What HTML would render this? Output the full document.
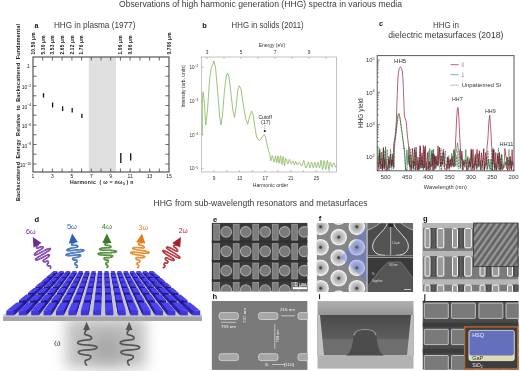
<!DOCTYPE html>
<html><head><meta charset="utf-8"><title>HHG figure</title>
<style>html,body{margin:0;padding:0;background:#fff;width:520px;height:371px;overflow:hidden}svg{display:block}</style>
</head><body>
<svg width="520" height="371" viewBox="0 0 520 371" font-family="'Liberation Sans',sans-serif">
<rect width="520" height="371" fill="#fff"/>
<text x="119" y="7" font-size="9" fill="#3a3a3a" text-anchor="start" textLength="283" lengthAdjust="spacingAndGlyphs" font-family="'Liberation Sans',sans-serif">Observations of high harmonic generation (HHG) spectra in various media</text>
<text x="153.5" y="206" font-size="9" fill="#3a3a3a" text-anchor="start" textLength="214" lengthAdjust="spacingAndGlyphs" font-family="'Liberation Sans',sans-serif">HHG from sub-wavelength resonators and metasurfaces</text>
<text x="36.5" y="27.6" font-size="7" fill="#111" text-anchor="middle" font-weight="bold" font-family="'Liberation Sans',sans-serif">a</text>
<text x="53.9" y="28" font-size="9" fill="#3a3a3a" text-anchor="start" textLength="81.5" lengthAdjust="spacingAndGlyphs" font-family="'Liberation Sans',sans-serif">HHG in plasma (1977)</text>
<rect x="88.8" y="57" width="27.2" height="115" fill="#e0e0e0"/>
<rect x="33" y="57" width="136" height="115" fill="none" stroke="#555" stroke-width="1.2"/>
<path d="M42.7 57V60.5M42.7 172V168.5M52.4 57V60.5M52.4 172V168.5M62.1 57V60.5M62.1 172V168.5M71.9 57V60.5M71.9 172V168.5M81.6 57V60.5M81.6 172V168.5M91.3 57V60.5M91.3 172V168.5M101.0 57V60.5M101.0 172V168.5M110.7 57V60.5M110.7 172V168.5M120.4 57V60.5M120.4 172V168.5M130.1 57V60.5M130.1 172V168.5M139.9 57V60.5M139.9 172V168.5M149.6 57V60.5M149.6 172V168.5M159.3 57V60.5M159.3 172V168.5M33 66.5H36.5M169 66.5H165.5M33 76.2H36.5M169 76.2H165.5M33 86.0H36.5M169 86.0H165.5M33 95.8H36.5M169 95.8H165.5M33 105.5H36.5M169 105.5H165.5M33 115.2H36.5M169 115.2H165.5M33 125.0H36.5M169 125.0H165.5M33 134.8H36.5M169 134.8H165.5M33 144.5H36.5M169 144.5H165.5M33 154.2H36.5M169 154.2H165.5M33 164.0H36.5M169 164.0H165.5" stroke="#555" stroke-width="0.9" fill="none"/>
<text x="29.8" y="68.3" font-size="5" fill="#222" text-anchor="end" font-family="'Liberation Sans',sans-serif">1</text>
<text x="31.3" y="89.4" font-size="5" fill="#222" text-anchor="end">10<tspan dy="-2.8" font-size="3.6">−2</tspan></text>
<text x="31.3" y="108.9" font-size="5" fill="#222" text-anchor="end">10<tspan dy="-2.8" font-size="3.6">−4</tspan></text>
<text x="31.3" y="128.4" font-size="5" fill="#222" text-anchor="end">10<tspan dy="-2.8" font-size="3.6">−6</tspan></text>
<text x="31.3" y="147.9" font-size="5" fill="#222" text-anchor="end">10<tspan dy="-2.8" font-size="3.6">−8</tspan></text>
<text x="31.3" y="167.4" font-size="5" fill="#222" text-anchor="end">10<tspan dy="-2.8" font-size="3.6">−10</tspan></text>
<text x="33.0" y="177.8" font-size="5" fill="#222" text-anchor="middle" font-family="'Liberation Sans',sans-serif">1</text>
<text x="52.4" y="177.8" font-size="5" fill="#222" text-anchor="middle" font-family="'Liberation Sans',sans-serif">3</text>
<text x="71.9" y="177.8" font-size="5" fill="#222" text-anchor="middle" font-family="'Liberation Sans',sans-serif">5</text>
<text x="91.3" y="177.8" font-size="5" fill="#222" text-anchor="middle" font-family="'Liberation Sans',sans-serif">7</text>
<text x="110.7" y="177.8" font-size="5" fill="#222" text-anchor="middle" font-family="'Liberation Sans',sans-serif">9</text>
<text x="130.1" y="177.8" font-size="5" fill="#222" text-anchor="middle" font-family="'Liberation Sans',sans-serif">11</text>
<text x="149.6" y="177.8" font-size="5" fill="#222" text-anchor="middle" font-family="'Liberation Sans',sans-serif">13</text>
<text x="169.0" y="177.8" font-size="5" fill="#222" text-anchor="middle" font-family="'Liberation Sans',sans-serif">15</text>
<text x="70" y="184" font-size="5.2" fill="#222" text-anchor="start" font-weight="bold" textLength="63.5" lengthAdjust="spacing" font-family="'Liberation Sans',sans-serif">Harmonic&#160;&#160;(&#160;ω&#160;=&#160;nω<tspan font-size="3.5" dy="1">0</tspan><tspan dy="-1">&#160;)&#160;n</tspan></text>
<text x="0" y="0" font-size="5.4" fill="#222" text-anchor="middle" font-weight="bold" textLength="177" lengthAdjust="spacing" transform="translate(19.9,112.5) rotate(-90)">Backscattered&#160;&#160;Energy&#160;&#160;Relative&#160;&#160;to&#160;&#160;Backscattered&#160;&#160;Fundamental</text>
<text x="0" y="0" font-size="4.8" fill="#222" font-weight="bold" textLength="22" lengthAdjust="spacing" transform="translate(34.8,54.6) rotate(-90)">10.59 μm</text>
<text x="0" y="0" font-size="4.8" fill="#222" font-weight="bold" textLength="19" lengthAdjust="spacing" transform="translate(44.5,54.6) rotate(-90)">5.30 μm</text>
<text x="0" y="0" font-size="4.8" fill="#222" font-weight="bold" textLength="19" lengthAdjust="spacing" transform="translate(54.2,54.6) rotate(-90)">3.53 μm</text>
<text x="0" y="0" font-size="4.8" fill="#222" font-weight="bold" textLength="19" lengthAdjust="spacing" transform="translate(63.9,54.6) rotate(-90)">2.65 μm</text>
<text x="0" y="0" font-size="4.8" fill="#222" font-weight="bold" textLength="19" lengthAdjust="spacing" transform="translate(73.7,54.6) rotate(-90)">2.12 μm</text>
<text x="0" y="0" font-size="4.8" fill="#222" font-weight="bold" textLength="19" lengthAdjust="spacing" transform="translate(83.4,54.6) rotate(-90)">1.76 μm</text>
<text x="0" y="0" font-size="4.8" fill="#222" font-weight="bold" textLength="19" lengthAdjust="spacing" transform="translate(122.2,54.6) rotate(-90)">1.06 μm</text>
<text x="0" y="0" font-size="4.8" fill="#222" font-weight="bold" textLength="19" lengthAdjust="spacing" transform="translate(131.9,54.6) rotate(-90)">0.96 μm</text>
<text x="0" y="0" font-size="4.8" fill="#222" font-weight="bold" textLength="22" lengthAdjust="spacing" transform="translate(170.8,54.6) rotate(-90)">0.706 μm</text>
<path d="M43.5 93.2V97.5M52.6 102.6V107.6M62.6 106.3V111M72.2 108V112.6M81.9 113.7V118.1M120.8 152.9V162.9M130.7 153.2V160.5" stroke="#111" stroke-width="1.3"/>
<text x="204.6" y="27.7" font-size="7.4" fill="#111" text-anchor="middle" font-weight="bold" font-family="'Liberation Sans',sans-serif">b</text>
<text x="231.6" y="28" font-size="9" fill="#3a3a3a" text-anchor="start" textLength="72" lengthAdjust="spacingAndGlyphs" font-family="'Liberation Sans',sans-serif">HHG in solids (2011)</text>
<rect x="201.5" y="57" width="135" height="115" fill="none" stroke="#b5b5b5" stroke-width="0.8"/>
<path d="M207.0 57V59M224.0 57V59M241.0 57V59M258.0 57V59M275.0 57V59M292.0 57V59M309.0 57V59M326.0 57V59M214.0 172V170M226.8 172V170M239.6 172V170M252.4 172V170M265.2 172V170M278.0 172V170M290.8 172V170M303.6 172V170M316.4 172V170M329.2 172V170M201.5 67.3H203.5M201.5 101.1H203.5M201.5 134.9H203.5M201.5 168.7H203.5" stroke="#999" stroke-width="0.6" fill="none"/>
<text x="207" y="53.6" font-size="4.8" fill="#333" text-anchor="middle" font-family="'Liberation Sans',sans-serif">3</text>
<text x="241" y="53.6" font-size="4.8" fill="#333" text-anchor="middle" font-family="'Liberation Sans',sans-serif">5</text>
<text x="275" y="53.6" font-size="4.8" fill="#333" text-anchor="middle" font-family="'Liberation Sans',sans-serif">7</text>
<text x="309" y="53.6" font-size="4.8" fill="#333" text-anchor="middle" font-family="'Liberation Sans',sans-serif">9</text>
<text x="214.0" y="179.6" font-size="4.8" fill="#333" text-anchor="middle" font-family="'Liberation Sans',sans-serif">9</text>
<text x="239.6" y="179.6" font-size="4.8" fill="#333" text-anchor="middle" font-family="'Liberation Sans',sans-serif">13</text>
<text x="265.2" y="179.6" font-size="4.8" fill="#333" text-anchor="middle" font-family="'Liberation Sans',sans-serif">17</text>
<text x="290.8" y="179.6" font-size="4.8" fill="#333" text-anchor="middle" font-family="'Liberation Sans',sans-serif">21</text>
<text x="316.4" y="179.6" font-size="4.8" fill="#333" text-anchor="middle" font-family="'Liberation Sans',sans-serif">25</text>
<text x="198.3" y="69.0" font-size="4.6" fill="#333" text-anchor="end">10<tspan dy="-1.8" font-size="3.2">−2</tspan></text>
<text x="198.3" y="102.8" font-size="4.6" fill="#333" text-anchor="end">10<tspan dy="-1.8" font-size="3.2">−3</tspan></text>
<text x="198.3" y="136.6" font-size="4.6" fill="#333" text-anchor="end">10<tspan dy="-1.8" font-size="3.2">−4</tspan></text>
<text x="198.3" y="170.4" font-size="4.6" fill="#333" text-anchor="end">10<tspan dy="-1.8" font-size="3.2">−5</tspan></text>
<text x="0" y="0" font-size="4.6" fill="#333" text-anchor="middle" textLength="42.8" lengthAdjust="spacingAndGlyphs" transform="translate(184.6,86.2) rotate(-90)">Intensity (arb. units)</text>
<text x="258.7" y="46.6" font-size="5.4" fill="#333" text-anchor="start" textLength="26.5" lengthAdjust="spacingAndGlyphs" font-family="'Liberation Sans',sans-serif">Energy (eV)</text>
<text x="252.8" y="187" font-size="5.4" fill="#333" text-anchor="start" textLength="35.3" lengthAdjust="spacingAndGlyphs" font-family="'Liberation Sans',sans-serif">Harmonic order</text>
<text x="258.5" y="119" font-size="5.4" fill="#222" text-anchor="start" textLength="13.3" lengthAdjust="spacingAndGlyphs" font-family="'Liberation Sans',sans-serif">Cutoff</text>
<text x="261" y="124.3" font-size="5.4" fill="#222" text-anchor="start" textLength="9.6" lengthAdjust="spacingAndGlyphs" font-family="'Liberation Sans',sans-serif">(17)</text>
<path d="M264.8 125.3V129.5" stroke="#333" stroke-width="0.5" stroke-dasharray="0.8 0.6"/>
<circle cx="264.8" cy="131" r="1.1" fill="#111"/>
<path d="M202.3 135.0 L202.4 100.0 L203.0 92.0 L204.2 100.0 L205.7 125.0 L207.5 110.0 L209.5 80.0 L211.3 67.0 L212.3 66.0 L213.8 61.0 L215.5 67.0 L217.5 90.0 L219.5 115.0 L221.0 125.0 L222.6 114.0 L224.5 90.0 L226.3 76.0 L227.5 73.0 L229.0 77.0 L230.8 92.0 L232.8 110.0 L234.5 117.5 L236.2 106.0 L237.8 90.0 L239.3 85.7 L241.0 89.0 L243.0 103.0 L245.5 118.0 L247.7 124.3 L249.5 117.0 L251.5 111.0 L253.2 115.0 L255.0 128.0 L256.6 137.0 L258.0 139.5 L259.4 140.4 L261.0 139.0 L262.8 136.0 L264.2 134.4 L265.5 137.0 L266.8 143.0 L268.3 150.0 L270.0 154.6 L270.5 160.7 L271.0 160.8 L271.5 158.5 L272.0 156.0 L272.5 155.7 L273.0 157.9 L273.5 160.8 L274.0 162.1 L274.5 160.8 L275.0 158.4 L275.5 155.8 L276.0 158.1 L276.5 162.6 L277.0 162.1 L277.5 157.5 L278.0 156.0 L278.5 159.5 L279.0 163.2 L279.5 162.7 L280.0 158.4 L280.5 155.7 L281.0 158.5 L281.5 163.4 L282.0 164.5 L282.5 160.4 L283.0 156.5 L283.5 157.4 L284.0 162.8 L284.5 165.7 L285.0 162.5 L285.5 158.6 L286.0 158.6 L286.5 159.3 L287.0 161.5 L287.5 163.7 L288.0 164.1 L288.5 162.5 L289.0 160.3 L289.5 159.3 L290.0 160.4 L290.5 162.7 L291.0 163.7 L291.5 163.7 L292.0 162.6 L292.5 161.2 L293.0 161.1 L293.5 162.4 L294.0 164.1 L294.5 164.5 L295.0 163.3 L295.5 161.9 L296.0 161.6 L296.5 162.9 L297.0 164.6 L297.5 165.1 L298.0 164.1 L298.5 163.0 L299.0 162.3 L299.5 162.3 L300.0 163.0 L300.5 164.2 L301.0 165.4 L301.5 166.0 L302.0 165.8 L302.5 165.0 L303.0 162.8 L303.5 160.8 L304.0 160.6 L304.5 162.3 L305.0 165.2 L305.5 167.0 L306.0 167.9 L306.5 167.4 L307.0 165.8 L307.5 163.8 L308.0 162.4 L308.5 162.2 L309.0 164.2 L309.5 167.0 L310.0 167.8 L310.5 166.3 L311.0 163.7 L311.5 162.1 L312.0 162.8 L312.5 165.4 L313.0 167.6 L313.5 167.5 L314.0 165.0 L314.5 162.6 L315.0 162.4 L315.5 164.6 L316.0 167.2 L316.5 167.8 L317.0 165.8 L317.5 163.1 L318.0 162.1 L318.5 163.8 L319.0 166.6 L319.5 167.9 L320.0 166.5 L320.5 163.7 L321.0 160.3 L321.5 162.0 L322.0 166.4 L322.5 169.6 L323.0 168.5 L323.5 164.2 L324.0 160.6 L324.5 161.1 L325.0 165.2 L325.5 169.1 L326.0 169.2 L326.5 165.5 L327.0 161.3 L327.5 160.4 L328.0 163.9 L328.5 168.4 L329.0 169.7 L329.5 166.8 L330.0 162.2 L330.5 162.8 L331.0 164.1 L331.5 166.3 L332.0 167.2 L332.5 165.9 L333.0 164.2 L333.5 163.0 L334.0 163.0 L334.5 164.1 L335.0 165.8 L335.5 167.0 L336.0 167.0 L336.5 165.8" fill="none" stroke="#84b458" stroke-width="0.8" stroke-linejoin="round"/>
<text x="381" y="26.3" font-size="7.2" fill="#111" text-anchor="middle" font-weight="bold" font-family="'Liberation Sans',sans-serif">c</text>
<text x="432.9" y="28" font-size="9" fill="#3a3a3a" text-anchor="start" textLength="26.1" lengthAdjust="spacingAndGlyphs" font-family="'Liberation Sans',sans-serif">HHG in</text>
<text x="388.3" y="38" font-size="9" fill="#3a3a3a" text-anchor="start" textLength="115" lengthAdjust="spacingAndGlyphs" font-family="'Liberation Sans',sans-serif">dielectric metasurfaces (2018)</text>
<path d="M377.80 146.6 L379.06 164.4 L379.72 148.4 L380.84 169.0 L381.65 152.0 L382.68 168.4 L383.39 155.3 L384.26 169.4 L385.56 146.7 L386.54 167.3 L387.33 167.0 L387.95 167.5 L388.77 156.3 L390.00 167.9 L390.99 159.7 L391.61 166.4 L392.30 153.7 L393.60 169.1 L394.30 148.0 L394.80 141.8 L396.20 130.0 L397.30 120.0 L397.90 115.0 L398.70 113.3 L399.50 115.0 L400.20 120.0 L401.60 130.0 L403.30 142.0 L404.20 150.0 L404.50 151.7 L405.62 170.0 L406.88 149.8 L408.12 164.2 L409.05 146.8 L410.10 170.6 L410.78 154.5 L411.56 168.1 L412.56 168.7 L413.31 166.1 L414.55 149.4 L415.26 170.0 L415.96 151.8 L416.65 164.0 L417.86 160.4 L418.61 170.6 L419.82 158.4 L421.09 168.0 L422.17 160.5 L423.43 169.2 L424.70 147.5 L425.51 166.7 L426.23 162.3 L426.87 166.3 L427.90 169.9 L428.97 166.5 L429.79 148.6 L430.72 166.4 L431.66 150.4 L432.30 170.6 L432.92 149.7 L434.11 164.1 L435.26 156.6 L436.27 164.1 L436.90 161.2 L438.17 165.5 L439.30 147.0 L440.55 166.6 L441.40 155.9 L442.55 164.8 L443.67 152.0 L444.87 164.3 L446.13 165.2 L446.97 168.6 L448.22 159.1 L449.46 168.1 L450.28 159.6 L451.00 164.6 L451.71 153.5 L453.01 165.2 L453.64 149.7 L454.61 167.0 L455.38 154.9 L456.56 150.0 L457.45 142.8 L458.70 150.7 L459.64 151.5 L460.33 167.5 L461.60 154.3 L462.75 164.8 L463.65 163.4 L464.84 166.2 L465.76 149.5 L466.96 170.6 L467.88 156.5 L468.99 167.6 L469.79 157.9 L470.49 166.8 L471.78 150.0 L472.82 167.7 L473.66 165.3 L474.45 169.9 L475.66 158.7 L476.81 169.8 L477.89 153.8 L479.03 166.7 L480.12 160.3 L481.06 169.8 L482.14 160.0 L483.40 168.9 L484.41 169.1 L485.39 165.9 L486.46 156.9 L487.64 168.9 L488.79 159.0 L489.85 169.5 L491.02 158.9 L492.21 170.5 L493.30 149.8 L494.57 167.9 L495.54 163.0 L496.72 170.6 L497.66 153.4 L498.76 169.5 L499.48 152.2 L500.49 169.0 L501.38 154.4 L502.52 168.8 L503.63 168.0 L504.34 167.3 L505.40 161.7 L506.48 168.7 L507.10 156.8 L507.86 164.4 L508.56 159.6 L509.28 165.5 L509.91 156.9 L510.77 168.6 L511.79 161.2 L513.02 164.0" fill="none" stroke="#2f7a36" stroke-width="0.65" stroke-linejoin="miter"/>
<path d="M377.80 162.2 L378.99 169.7 L379.77 153.0 L380.69 168.9 L381.84 163.8 L382.46 170.3 L383.36 148.2 L383.96 167.3 L385.07 159.2 L386.33 170.6 L386.95 167.5 L387.93 170.6 L388.80 159.6 L389.69 164.2 L390.45 154.2 L391.39 165.7 L392.16 159.5 L393.08 166.2 L393.70 144.0 L394.60 140.0 L395.60 132.0 L396.40 120.0 L397.00 100.0 L397.80 80.0 L398.50 72.0 L399.30 68.5 L400.50 66.8 L401.70 68.5 L402.40 72.0 L403.00 80.0 L403.80 100.0 L404.40 116.0 L405.30 119.0 L406.20 121.5 L406.60 126.0 L407.30 135.0 L408.10 142.0 L408.80 147.0 L409.20 159.0 L409.87 167.0 L410.58 165.0 L411.46 170.6 L412.62 148.1 L413.38 168.0 L414.17 160.9 L414.85 165.6 L416.09 147.1 L417.26 170.0 L417.99 157.1 L419.03 169.5 L420.23 146.3 L420.89 168.5 L421.96 152.8 L422.69 167.6 L423.35 145.5 L424.56 168.1 L425.37 145.9 L426.37 170.6 L427.56 152.7 L428.45 168.5 L429.35 161.3 L430.17 170.1 L430.80 166.1 L431.83 166.1 L432.81 153.5 L433.65 170.6 L434.39 154.7 L435.13 168.7 L435.92 156.0 L437.04 166.4 L438.03 145.9 L438.70 164.5 L439.47 148.1 L440.50 165.8 L441.33 162.1 L442.25 164.3 L443.34 149.3 L444.61 169.5 L445.88 168.5 L446.68 170.6 L447.82 156.9 L449.08 168.7 L450.26 159.3 L450.99 167.3 L451.68 157.5 L452.96 166.5 L453.56 166.8 L454.28 162.2 L455.14 150.4 L455.80 137.1 L456.70 118.0 L457.34 108.8 L458.06 107.4 L458.77 115.7 L459.71 135.2 L461.01 158.7 L461.98 151.0 L462.86 170.0 L463.80 160.5 L464.69 164.3 L465.58 160.3 L466.80 170.2 L467.75 167.6 L468.53 165.8 L469.28 160.7 L470.49 165.1 L471.12 148.9 L472.12 170.6 L473.00 149.3 L474.06 169.9 L475.18 155.4 L475.84 165.6 L477.06 149.3 L478.30 166.5 L479.36 150.7 L480.41 170.1 L481.38 152.8 L482.46 166.0 L483.71 148.6 L484.36 170.6 L485.63 152.6 L486.26 165.1 L486.95 148.4 L488.02 137.3 L488.74 123.0 L489.74 115.4 L490.99 133.1 L491.59 145.9 L492.20 149.6 L492.88 164.6 L494.03 149.6 L495.01 170.6 L495.75 152.5 L496.58 170.6 L497.73 155.8 L498.69 164.2 L499.32 153.7 L500.26 170.5 L501.29 163.2 L502.14 169.8 L503.11 169.1 L504.29 161.5 L504.95 148.6 L505.82 155.4 L506.64 160.7 L507.58 170.6 L508.24 164.0 L509.28 170.6 L510.24 156.5 L511.44 169.8 L512.08 149.5 L512.82 166.3" fill="none" stroke="#9a1c36" stroke-width="0.7" stroke-linejoin="miter"/>
<path d="M377.80 159.0 L378.78 166.8 L379.80 150.5 L380.45 164.1 L381.64 158.4 L382.40 170.6 L383.33 147.0 L384.26 168.8 L384.97 150.4 L386.18 167.9 L387.29 149.7 L387.94 169.7 L388.95 157.3 L389.57 170.5 L390.51 148.9 L391.72 169.4 L392.97 155.1 L394.13 167.3 L394.50 147.0 L395.00 142.0 L396.40 131.0 L397.50 121.0 L398.10 116.0 L398.90 114.5 L399.70 116.0 L400.40 121.0 L401.80 131.0 L403.40 143.0 L404.00 149.0 L404.30 147.7 L405.48 167.6 L406.26 170.6 L407.32 167.5 L408.45 155.6 L409.59 166.0 L410.75 148.7 L411.64 168.0 L412.72 160.3 L413.71 170.0 L414.50 147.5 L415.58 170.3 L416.41 163.8 L417.57 170.0 L418.48 163.8 L419.22 168.8 L420.02 145.2 L421.04 165.5 L422.09 155.9 L423.35 170.6 L424.31 150.2 L425.40 170.0 L426.68 167.3 L427.53 168.5 L428.35 151.2 L429.01 170.6 L429.98 162.9 L431.04 166.3 L431.78 153.2 L432.47 165.6 L433.68 149.3 L434.29 169.8 L434.90 156.5 L436.13 168.7 L436.95 155.5 L437.82 165.0 L439.12 165.7 L440.02 169.6 L440.90 148.2 L441.67 170.6 L442.89 152.5 L444.11 167.4 L445.30 150.7 L446.26 167.5 L447.35 156.9 L448.01 169.6 L448.80 155.5 L449.95 165.3 L450.56 163.7 L451.57 166.7 L452.35 156.1 L453.60 165.9 L454.49 149.6 L455.52 166.0 L456.45 155.7 L457.15 166.8 L457.96 150.6 L458.79 168.9 L460.07 149.0 L460.93 168.5 L461.76 157.1 L462.70 170.0 L463.96 159.3 L464.56 167.4 L465.20 167.7 L466.34 164.8 L467.44 157.8 L468.70 170.4 L469.34 161.7 L470.61 168.6 L471.50 150.9 L472.67 167.7 L473.60 164.5 L474.45 165.1 L475.49 153.5 L476.19 168.7 L476.86 164.3 L477.91 167.5 L479.14 153.2 L480.23 165.0 L481.42 165.1 L482.45 170.6 L483.68 149.4 L484.60 169.2 L485.76 163.3 L487.02 170.6 L487.92 151.0 L488.84 166.1 L489.94 165.9 L491.10 170.6 L491.90 148.8 L492.55 170.4 L493.35 148.4 L494.25 170.6 L494.87 165.0 L496.05 168.8 L497.02 167.5 L497.74 166.8 L498.38 148.1 L499.51 170.6 L500.60 158.2 L501.26 169.5 L501.94 154.5 L502.86 167.7 L503.52 165.5 L504.48 164.2 L505.45 162.9 L506.25 165.1 L507.24 157.3 L508.00 165.7 L508.99 149.2 L509.89 165.2 L510.71 160.5 L511.71 169.9 L512.71 161.8 L513.54 166.9" fill="none" stroke="#1e1e1e" stroke-width="0.6" stroke-linejoin="miter" stroke-dasharray="0.8 0.7"/>
<rect x="377.2" y="55.6" width="136.8" height="115.2" fill="none" stroke="#5a5a5a" stroke-width="1"/>
<path d="M377.2 60.0H380M377.2 82.6H378.8M377.2 76.9H378.8M377.2 72.9H378.8M377.2 69.7H378.8M377.2 67.2H378.8M377.2 65.0H378.8M377.2 63.1H378.8M377.2 61.5H378.8M377.2 92.3H380M377.2 114.9H378.8M377.2 109.2H378.8M377.2 105.2H378.8M377.2 102.0H378.8M377.2 99.5H378.8M377.2 97.3H378.8M377.2 95.4H378.8M377.2 93.8H378.8M377.2 124.6H380M377.2 147.2H378.8M377.2 141.5H378.8M377.2 137.5H378.8M377.2 134.3H378.8M377.2 131.8H378.8M377.2 129.6H378.8M377.2 127.7H378.8M377.2 126.1H378.8M377.2 156.9H380M377.2 169.8H378.8M377.2 166.6H378.8M377.2 164.1H378.8M377.2 161.9H378.8M377.2 160.0H378.8M377.2 158.4H378.8M385.7 170.8V168.8M407.0 170.8V168.8M428.3 170.8V168.8M449.6 170.8V168.8M470.9 170.8V168.8M492.2 170.8V168.8M513.5 170.8V168.8" stroke="#444" stroke-width="0.6" fill="none"/>
<text x="374.6" y="62.2" font-size="5.8" fill="#333" text-anchor="end">10<tspan dy="-2.3" font-size="3.8">5</tspan></text>
<text x="374.6" y="94.5" font-size="5.8" fill="#333" text-anchor="end">10<tspan dy="-2.3" font-size="3.8">4</tspan></text>
<text x="374.6" y="126.8" font-size="5.8" fill="#333" text-anchor="end">10<tspan dy="-2.3" font-size="3.8">3</tspan></text>
<text x="374.6" y="159.1" font-size="5.8" fill="#333" text-anchor="end">10<tspan dy="-2.3" font-size="3.8">2</tspan></text>
<text x="385.7" y="179.2" font-size="6" fill="#333" text-anchor="middle" font-family="'Liberation Sans',sans-serif">500</text>
<text x="407.0" y="179.2" font-size="6" fill="#333" text-anchor="middle" font-family="'Liberation Sans',sans-serif">450</text>
<text x="428.3" y="179.2" font-size="6" fill="#333" text-anchor="middle" font-family="'Liberation Sans',sans-serif">400</text>
<text x="449.6" y="179.2" font-size="6" fill="#333" text-anchor="middle" font-family="'Liberation Sans',sans-serif">350</text>
<text x="470.9" y="179.2" font-size="6" fill="#333" text-anchor="middle" font-family="'Liberation Sans',sans-serif">300</text>
<text x="492.2" y="179.2" font-size="6" fill="#333" text-anchor="middle" font-family="'Liberation Sans',sans-serif">250</text>
<text x="513.5" y="179.2" font-size="6" fill="#333" text-anchor="middle" font-family="'Liberation Sans',sans-serif">200</text>
<text x="423.8" y="188.8" font-size="6" fill="#333" text-anchor="start" textLength="43.2" lengthAdjust="spacingAndGlyphs" font-family="'Liberation Sans',sans-serif">Wavelength (nm)</text>
<text x="0" y="0" font-size="6.6" fill="#333" text-anchor="middle" textLength="29.7" lengthAdjust="spacingAndGlyphs" transform="translate(362.6,113.2) rotate(-90)">HHG yield</text>
<path d="M450.5 64.7H458.6" stroke="#c0305a" stroke-width="0.8"/>
<path d="M450.5 74.7H458.6" stroke="#6aa070" stroke-width="0.8"/>
<path d="M450.5 85.2H458.6" stroke="#444" stroke-width="0.6" stroke-dasharray="0.8 0.6"/>
<path d="M462.2 62.4V67.2M463.3 62.4V67.2" stroke="#a8a0a0" stroke-width="0.6"/>
<path d="M462.8 72.3V76.6M461.6 76.6H464" stroke="#888" stroke-width="0.6"/>
<text x="461.8" y="87.2" font-size="5.8" fill="#333" text-anchor="start" textLength="39.2" lengthAdjust="spacingAndGlyphs" font-family="'Liberation Sans',sans-serif">Unpatterned Si</text>
<text x="452" y="100.8" font-size="6" fill="#333" text-anchor="start" textLength="10.6" lengthAdjust="spacingAndGlyphs" font-family="'Liberation Sans',sans-serif">HH7</text>
<text x="394" y="62.7" font-size="6" fill="#333" text-anchor="start" textLength="12.2" lengthAdjust="spacingAndGlyphs" font-family="'Liberation Sans',sans-serif">HH5</text>
<text x="485" y="112.9" font-size="6" fill="#333" text-anchor="start" textLength="10.7" lengthAdjust="spacingAndGlyphs" font-family="'Liberation Sans',sans-serif">HH9</text>
<text x="499.4" y="145.7" font-size="6" fill="#333" text-anchor="start" textLength="14.1" lengthAdjust="spacingAndGlyphs" font-family="'Liberation Sans',sans-serif">HH11</text>
<defs><filter id="gblur" x="-50%" y="-50%" width="200%" height="200%"><feGaussianBlur stdDeviation="7"/></filter><filter id="gblur2" x="-50%" y="-50%" width="200%" height="200%"><feGaussianBlur stdDeviation="9"/></filter></defs>
<rect x="66" y="318" width="80" height="50" fill="#c0c0c0" filter="url(#gblur)"/>
<ellipse cx="107" cy="348" rx="17" ry="14" fill="#a4a4a4" filter="url(#gblur2)"/>
<polygon points="52.39,272.80 153.40,272.80 202.00,315.50 3.00,315.50" fill="#c6c6ce"/>
<polygon points="3.00,315.50 202.00,315.50 202.00,321.10 3.00,321.10" fill="#a6a6a6"/>
<path d="M3.0 316.0H202.0" stroke="#d2d2d2" stroke-width="1"/>
<polygon points="53.99,272.80 57.91,272.80 15.16,314.30 7.56,314.30" fill="#1c148c"/>
<polygon points="60.31,272.80 64.22,272.80 27.42,314.30 19.82,314.30" fill="#1c148c"/>
<polygon points="66.62,272.80 70.53,272.80 39.68,314.30 32.07,314.30" fill="#1c148c"/>
<polygon points="72.93,272.80 76.85,272.80 51.93,314.30 44.33,314.30" fill="#1c148c"/>
<polygon points="79.25,272.80 83.16,272.80 64.19,314.30 56.59,314.30" fill="#1c148c"/>
<polygon points="85.56,272.80 89.47,272.80 76.45,314.30 68.85,314.30" fill="#1c148c"/>
<polygon points="91.87,272.80 95.79,272.80 88.71,314.30 81.11,314.30" fill="#1c148c"/>
<polygon points="98.19,272.80 102.10,272.80 100.97,314.30 93.37,314.30" fill="#1c148c"/>
<polygon points="104.50,272.80 108.41,272.80 113.23,314.30 105.63,314.30" fill="#1c148c"/>
<polygon points="110.81,272.80 114.73,272.80 125.49,314.30 117.89,314.30" fill="#1c148c"/>
<polygon points="117.13,272.80 121.04,272.80 137.75,314.30 130.15,314.30" fill="#1c148c"/>
<polygon points="123.44,272.80 127.35,272.80 150.01,314.30 142.41,314.30" fill="#1c148c"/>
<polygon points="129.75,272.80 133.67,272.80 162.27,314.30 154.67,314.30" fill="#1c148c"/>
<polygon points="136.07,272.80 139.98,272.80 174.53,314.30 166.92,314.30" fill="#1c148c"/>
<polygon points="142.38,272.80 146.29,272.80 186.78,314.30 179.18,314.30" fill="#1c148c"/>
<polygon points="148.69,272.80 152.61,272.80 199.04,314.30 191.44,314.30" fill="#1c148c"/>
<polygon points="54.84,273.38 57.45,270.90 57.45,273.25 54.84,275.88" fill="#2a22a2"/>
<polygon points="50.66,273.38 54.84,273.38 54.84,275.88 50.66,275.88" fill="#1e168e"/>
<polygon points="53.50,270.90 57.45,270.90 54.84,273.38 50.66,273.38" fill="#4c43ec"/>
<polygon points="151.76,273.38 149.15,270.90 149.15,273.25 151.76,275.88" fill="#2a22a2"/>
<polygon points="151.76,273.38 155.94,273.38 155.94,275.88 151.76,275.88" fill="#1e168e"/>
<polygon points="149.15,270.90 153.10,270.90 155.94,273.38 151.76,273.38" fill="#4c43ec"/>
<polygon points="61.58,273.38 63.83,270.90 63.83,273.25 61.58,275.88" fill="#2a22a2"/>
<polygon points="57.40,273.38 61.58,273.38 61.58,275.88 57.40,275.88" fill="#1e168e"/>
<polygon points="59.88,270.90 63.83,270.90 61.58,273.38 57.40,273.38" fill="#4c43ec"/>
<polygon points="145.02,273.38 142.77,270.90 142.77,273.25 145.02,275.88" fill="#2a22a2"/>
<polygon points="145.02,273.38 149.20,273.38 149.20,275.88 145.02,275.88" fill="#1e168e"/>
<polygon points="142.77,270.90 146.72,270.90 149.20,273.38 145.02,273.38" fill="#4c43ec"/>
<polygon points="68.32,273.38 70.21,270.90 70.21,273.25 68.32,275.88" fill="#2a22a2"/>
<polygon points="64.14,273.38 68.32,273.38 68.32,275.88 64.14,275.88" fill="#1e168e"/>
<polygon points="66.25,270.90 70.21,270.90 68.32,273.38 64.14,273.38" fill="#4c43ec"/>
<polygon points="138.28,273.38 136.39,270.90 136.39,273.25 138.28,275.88" fill="#2a22a2"/>
<polygon points="138.28,273.38 142.46,273.38 142.46,275.88 138.28,275.88" fill="#1e168e"/>
<polygon points="136.39,270.90 140.35,270.90 142.46,273.38 138.28,273.38" fill="#4c43ec"/>
<polygon points="75.06,273.38 76.58,270.90 76.58,273.25 75.06,275.88" fill="#2a22a2"/>
<polygon points="70.88,273.38 75.06,273.38 75.06,275.88 70.88,275.88" fill="#1e168e"/>
<polygon points="72.63,270.90 76.58,270.90 75.06,273.38 70.88,273.38" fill="#4c43ec"/>
<polygon points="131.54,273.38 130.02,270.90 130.02,273.25 131.54,275.88" fill="#2a22a2"/>
<polygon points="131.54,273.38 135.72,273.38 135.72,275.88 131.54,275.88" fill="#1e168e"/>
<polygon points="130.02,270.90 133.97,270.90 135.72,273.38 131.54,273.38" fill="#4c43ec"/>
<polygon points="81.80,273.38 82.96,270.90 82.96,273.25 81.80,275.88" fill="#2a22a2"/>
<polygon points="77.62,273.38 81.80,273.38 81.80,275.88 77.62,275.88" fill="#1e168e"/>
<polygon points="79.01,270.90 82.96,270.90 81.80,273.38 77.62,273.38" fill="#4c43ec"/>
<polygon points="124.80,273.38 123.64,270.90 123.64,273.25 124.80,275.88" fill="#2a22a2"/>
<polygon points="124.80,273.38 128.98,273.38 128.98,275.88 124.80,275.88" fill="#1e168e"/>
<polygon points="123.64,270.90 127.59,270.90 128.98,273.38 124.80,273.38" fill="#4c43ec"/>
<polygon points="88.54,273.38 89.34,270.90 89.34,273.25 88.54,275.88" fill="#2a22a2"/>
<polygon points="84.36,273.38 88.54,273.38 88.54,275.88 84.36,275.88" fill="#1e168e"/>
<polygon points="85.38,270.90 89.34,270.90 88.54,273.38 84.36,273.38" fill="#4c43ec"/>
<polygon points="118.06,273.38 117.26,270.90 117.26,273.25 118.06,275.88" fill="#2a22a2"/>
<polygon points="118.06,273.38 122.24,273.38 122.24,275.88 118.06,275.88" fill="#1e168e"/>
<polygon points="117.26,270.90 121.22,270.90 122.24,273.38 118.06,273.38" fill="#4c43ec"/>
<polygon points="95.28,273.38 95.71,270.90 95.71,273.25 95.28,275.88" fill="#2a22a2"/>
<polygon points="91.10,273.38 95.28,273.38 95.28,275.88 91.10,275.88" fill="#1e168e"/>
<polygon points="91.76,270.90 95.71,270.90 95.28,273.38 91.10,273.38" fill="#4c43ec"/>
<polygon points="111.32,273.38 110.89,270.90 110.89,273.25 111.32,275.88" fill="#2a22a2"/>
<polygon points="111.32,273.38 115.50,273.38 115.50,275.88 111.32,275.88" fill="#1e168e"/>
<polygon points="110.89,270.90 114.84,270.90 115.50,273.38 111.32,273.38" fill="#4c43ec"/>
<polygon points="102.02,273.38 102.09,270.90 102.09,273.25 102.02,275.88" fill="#2a22a2"/>
<polygon points="97.84,273.38 102.02,273.38 102.02,275.88 97.84,275.88" fill="#1e168e"/>
<polygon points="98.14,270.90 102.09,270.90 102.02,273.38 97.84,273.38" fill="#4c43ec"/>
<polygon points="104.58,273.38 104.51,270.90 104.51,273.25 104.58,275.88" fill="#2a22a2"/>
<polygon points="104.58,273.38 108.76,273.38 108.76,275.88 104.58,275.88" fill="#1e168e"/>
<polygon points="104.51,270.90 108.46,270.90 108.76,273.38 104.58,273.38" fill="#4c43ec"/>
<polygon points="50.90,277.10 53.95,274.23 53.95,276.77 50.90,279.80" fill="#2a22a2"/>
<polygon points="46.39,277.10 50.90,277.10 50.90,279.80 46.39,279.80" fill="#1e168e"/>
<polygon points="49.69,274.23 53.95,274.23 50.90,277.10 46.39,277.10" fill="#4c43ec"/>
<polygon points="155.70,277.10 152.65,274.23 152.65,276.77 155.70,279.80" fill="#2a22a2"/>
<polygon points="155.70,277.10 160.21,277.10 160.21,279.80 155.70,279.80" fill="#1e168e"/>
<polygon points="152.65,274.23 156.91,274.23 160.21,277.10 155.70,277.10" fill="#4c43ec"/>
<polygon points="58.19,277.10 60.81,274.23 60.81,276.77 58.19,279.80" fill="#2a22a2"/>
<polygon points="53.67,277.10 58.19,277.10 58.19,279.80 53.67,279.80" fill="#1e168e"/>
<polygon points="56.56,274.23 60.81,274.23 58.19,277.10 53.67,277.10" fill="#4c43ec"/>
<polygon points="148.41,277.10 145.79,274.23 145.79,276.77 148.41,279.80" fill="#2a22a2"/>
<polygon points="148.41,277.10 152.93,277.10 152.93,279.80 148.41,279.80" fill="#1e168e"/>
<polygon points="145.79,274.23 150.04,274.23 152.93,277.10 148.41,277.10" fill="#4c43ec"/>
<polygon points="65.48,277.10 67.68,274.23 67.68,276.77 65.48,279.80" fill="#2a22a2"/>
<polygon points="60.96,277.10 65.48,277.10 65.48,279.80 60.96,279.80" fill="#1e168e"/>
<polygon points="63.42,274.23 67.68,274.23 65.48,277.10 60.96,277.10" fill="#4c43ec"/>
<polygon points="141.12,277.10 138.92,274.23 138.92,276.77 141.12,279.80" fill="#2a22a2"/>
<polygon points="141.12,277.10 145.64,277.10 145.64,279.80 141.12,279.80" fill="#1e168e"/>
<polygon points="138.92,274.23 143.18,274.23 145.64,277.10 141.12,277.10" fill="#4c43ec"/>
<polygon points="72.77,277.10 74.54,274.23 74.54,276.77 72.77,279.80" fill="#2a22a2"/>
<polygon points="68.25,277.10 72.77,277.10 72.77,279.80 68.25,279.80" fill="#1e168e"/>
<polygon points="70.28,274.23 74.54,274.23 72.77,277.10 68.25,277.10" fill="#4c43ec"/>
<polygon points="133.83,277.10 132.06,274.23 132.06,276.77 133.83,279.80" fill="#2a22a2"/>
<polygon points="133.83,277.10 138.35,277.10 138.35,279.80 133.83,279.80" fill="#1e168e"/>
<polygon points="132.06,274.23 136.32,274.23 138.35,277.10 133.83,277.10" fill="#4c43ec"/>
<polygon points="80.05,277.10 81.40,274.23 81.40,276.77 80.05,279.80" fill="#2a22a2"/>
<polygon points="75.54,277.10 80.05,277.10 80.05,279.80 75.54,279.80" fill="#1e168e"/>
<polygon points="77.15,274.23 81.40,274.23 80.05,277.10 75.54,277.10" fill="#4c43ec"/>
<polygon points="126.55,277.10 125.20,274.23 125.20,276.77 126.55,279.80" fill="#2a22a2"/>
<polygon points="126.55,277.10 131.06,277.10 131.06,279.80 126.55,279.80" fill="#1e168e"/>
<polygon points="125.20,274.23 129.45,274.23 131.06,277.10 126.55,277.10" fill="#4c43ec"/>
<polygon points="87.34,277.10 88.27,274.23 88.27,276.77 87.34,279.80" fill="#2a22a2"/>
<polygon points="82.82,277.10 87.34,277.10 87.34,279.80 82.82,279.80" fill="#1e168e"/>
<polygon points="84.01,274.23 88.27,274.23 87.34,277.10 82.82,277.10" fill="#4c43ec"/>
<polygon points="119.26,277.10 118.33,274.23 118.33,276.77 119.26,279.80" fill="#2a22a2"/>
<polygon points="119.26,277.10 123.78,277.10 123.78,279.80 119.26,279.80" fill="#1e168e"/>
<polygon points="118.33,274.23 122.59,274.23 123.78,277.10 119.26,277.10" fill="#4c43ec"/>
<polygon points="94.63,277.10 95.13,274.23 95.13,276.77 94.63,279.80" fill="#2a22a2"/>
<polygon points="90.11,277.10 94.63,277.10 94.63,279.80 90.11,279.80" fill="#1e168e"/>
<polygon points="90.88,274.23 95.13,274.23 94.63,277.10 90.11,277.10" fill="#4c43ec"/>
<polygon points="111.97,277.10 111.47,274.23 111.47,276.77 111.97,279.80" fill="#2a22a2"/>
<polygon points="111.97,277.10 116.49,277.10 116.49,279.80 111.97,279.80" fill="#1e168e"/>
<polygon points="111.47,274.23 115.72,274.23 116.49,277.10 111.97,277.10" fill="#4c43ec"/>
<polygon points="101.92,277.10 102.00,274.23 102.00,276.77 101.92,279.80" fill="#2a22a2"/>
<polygon points="97.40,277.10 101.92,277.10 101.92,279.80 97.40,279.80" fill="#1e168e"/>
<polygon points="97.74,274.23 102.00,274.23 101.92,277.10 97.40,277.10" fill="#4c43ec"/>
<polygon points="104.68,277.10 104.60,274.23 104.60,276.77 104.68,279.80" fill="#2a22a2"/>
<polygon points="104.68,277.10 109.20,277.10 109.20,279.80 104.68,279.80" fill="#1e168e"/>
<polygon points="104.60,274.23 108.86,274.23 109.20,277.10 104.68,277.10" fill="#4c43ec"/>
<polygon points="46.27,281.45 49.86,278.09 49.86,280.83 46.27,284.38" fill="#2a22a2"/>
<polygon points="41.36,281.45 46.27,281.45 46.27,284.38 41.36,284.38" fill="#1e168e"/>
<polygon points="45.25,278.09 49.86,278.09 46.27,281.45 41.36,281.45" fill="#4c43ec"/>
<polygon points="160.33,281.45 156.74,278.09 156.74,280.83 160.33,284.38" fill="#2a22a2"/>
<polygon points="160.33,281.45 165.24,281.45 165.24,284.38 160.33,284.38" fill="#1e168e"/>
<polygon points="156.74,278.09 161.35,278.09 165.24,281.45 160.33,281.45" fill="#4c43ec"/>
<polygon points="54.20,281.45 57.29,278.09 57.29,280.83 54.20,284.38" fill="#2a22a2"/>
<polygon points="49.29,281.45 54.20,281.45 54.20,284.38 49.29,284.38" fill="#1e168e"/>
<polygon points="52.69,278.09 57.29,278.09 54.20,281.45 49.29,281.45" fill="#4c43ec"/>
<polygon points="152.40,281.45 149.31,278.09 149.31,280.83 152.40,284.38" fill="#2a22a2"/>
<polygon points="152.40,281.45 157.31,281.45 157.31,284.38 152.40,284.38" fill="#1e168e"/>
<polygon points="149.31,278.09 153.91,278.09 157.31,281.45 152.40,281.45" fill="#4c43ec"/>
<polygon points="62.14,281.45 64.73,278.09 64.73,280.83 62.14,284.38" fill="#2a22a2"/>
<polygon points="57.22,281.45 62.14,281.45 62.14,284.38 57.22,284.38" fill="#1e168e"/>
<polygon points="60.12,278.09 64.73,278.09 62.14,281.45 57.22,281.45" fill="#4c43ec"/>
<polygon points="144.46,281.45 141.87,278.09 141.87,280.83 144.46,284.38" fill="#2a22a2"/>
<polygon points="144.46,281.45 149.38,281.45 149.38,284.38 144.46,284.38" fill="#1e168e"/>
<polygon points="141.87,278.09 146.48,278.09 149.38,281.45 144.46,281.45" fill="#4c43ec"/>
<polygon points="70.07,281.45 72.16,278.09 72.16,280.83 70.07,284.38" fill="#2a22a2"/>
<polygon points="65.15,281.45 70.07,281.45 70.07,284.38 65.15,284.38" fill="#1e168e"/>
<polygon points="67.55,278.09 72.16,278.09 70.07,281.45 65.15,281.45" fill="#4c43ec"/>
<polygon points="136.53,281.45 134.44,278.09 134.44,280.83 136.53,284.38" fill="#2a22a2"/>
<polygon points="136.53,281.45 141.45,281.45 141.45,284.38 136.53,284.38" fill="#1e168e"/>
<polygon points="134.44,278.09 139.05,278.09 141.45,281.45 136.53,281.45" fill="#4c43ec"/>
<polygon points="78.00,281.45 79.59,278.09 79.59,280.83 78.00,284.38" fill="#2a22a2"/>
<polygon points="73.08,281.45 78.00,281.45 78.00,284.38 73.08,284.38" fill="#1e168e"/>
<polygon points="74.98,278.09 79.59,278.09 78.00,281.45 73.08,281.45" fill="#4c43ec"/>
<polygon points="128.60,281.45 127.01,278.09 127.01,280.83 128.60,284.38" fill="#2a22a2"/>
<polygon points="128.60,281.45 133.52,281.45 133.52,284.38 128.60,284.38" fill="#1e168e"/>
<polygon points="127.01,278.09 131.62,278.09 133.52,281.45 128.60,281.45" fill="#4c43ec"/>
<polygon points="85.93,281.45 87.02,278.09 87.02,280.83 85.93,284.38" fill="#2a22a2"/>
<polygon points="81.01,281.45 85.93,281.45 85.93,284.38 81.01,284.38" fill="#1e168e"/>
<polygon points="82.42,278.09 87.02,278.09 85.93,281.45 81.01,281.45" fill="#4c43ec"/>
<polygon points="120.67,281.45 119.58,278.09 119.58,280.83 120.67,284.38" fill="#2a22a2"/>
<polygon points="120.67,281.45 125.59,281.45 125.59,284.38 120.67,284.38" fill="#1e168e"/>
<polygon points="119.58,278.09 124.18,278.09 125.59,281.45 120.67,281.45" fill="#4c43ec"/>
<polygon points="93.86,281.45 94.46,278.09 94.46,280.83 93.86,284.38" fill="#2a22a2"/>
<polygon points="88.94,281.45 93.86,281.45 93.86,284.38 88.94,284.38" fill="#1e168e"/>
<polygon points="89.85,278.09 94.46,278.09 93.86,281.45 88.94,281.45" fill="#4c43ec"/>
<polygon points="112.74,281.45 112.14,278.09 112.14,280.83 112.74,284.38" fill="#2a22a2"/>
<polygon points="112.74,281.45 117.66,281.45 117.66,284.38 112.74,284.38" fill="#1e168e"/>
<polygon points="112.14,278.09 116.75,278.09 117.66,281.45 112.74,281.45" fill="#4c43ec"/>
<polygon points="101.79,281.45 101.89,278.09 101.89,280.83 101.79,284.38" fill="#2a22a2"/>
<polygon points="96.88,281.45 101.79,281.45 101.79,284.38 96.88,284.38" fill="#1e168e"/>
<polygon points="97.28,278.09 101.89,278.09 101.79,281.45 96.88,281.45" fill="#4c43ec"/>
<polygon points="104.81,281.45 104.71,278.09 104.71,280.83 104.81,284.38" fill="#2a22a2"/>
<polygon points="104.81,281.45 109.72,281.45 109.72,284.38 104.81,284.38" fill="#1e168e"/>
<polygon points="104.71,278.09 109.32,278.09 109.72,281.45 104.81,281.45" fill="#4c43ec"/>
<polygon points="40.75,286.59 45.04,282.60 45.04,285.60 40.75,289.81" fill="#2a22a2"/>
<polygon points="35.35,286.59 40.75,286.59 40.75,289.81 35.35,289.81" fill="#1e168e"/>
<polygon points="40.01,282.60 45.04,282.60 40.75,286.59 35.35,286.59" fill="#4c43ec"/>
<polygon points="165.85,286.59 161.56,282.60 161.56,285.60 165.85,289.81" fill="#2a22a2"/>
<polygon points="165.85,286.59 171.25,286.59 171.25,289.81 165.85,289.81" fill="#1e168e"/>
<polygon points="161.56,282.60 166.59,282.60 171.25,286.59 165.85,286.59" fill="#4c43ec"/>
<polygon points="49.45,286.59 53.14,282.60 53.14,285.60 49.45,289.81" fill="#2a22a2"/>
<polygon points="44.05,286.59 49.45,286.59 49.45,289.81 44.05,289.81" fill="#1e168e"/>
<polygon points="48.12,282.60 53.14,282.60 49.45,286.59 44.05,286.59" fill="#4c43ec"/>
<polygon points="157.15,286.59 153.46,282.60 153.46,285.60 157.15,289.81" fill="#2a22a2"/>
<polygon points="157.15,286.59 162.55,286.59 162.55,289.81 157.15,289.81" fill="#1e168e"/>
<polygon points="153.46,282.60 158.48,282.60 162.55,286.59 157.15,286.59" fill="#4c43ec"/>
<polygon points="58.15,286.59 61.24,282.60 61.24,285.60 58.15,289.81" fill="#2a22a2"/>
<polygon points="52.75,286.59 58.15,286.59 58.15,289.81 52.75,289.81" fill="#1e168e"/>
<polygon points="56.22,282.60 61.24,282.60 58.15,286.59 52.75,286.59" fill="#4c43ec"/>
<polygon points="148.45,286.59 145.36,282.60 145.36,285.60 148.45,289.81" fill="#2a22a2"/>
<polygon points="148.45,286.59 153.85,286.59 153.85,289.81 148.45,289.81" fill="#1e168e"/>
<polygon points="145.36,282.60 150.38,282.60 153.85,286.59 148.45,286.59" fill="#4c43ec"/>
<polygon points="66.85,286.59 69.35,282.60 69.35,285.60 66.85,289.81" fill="#2a22a2"/>
<polygon points="61.45,286.59 66.85,286.59 66.85,289.81 61.45,289.81" fill="#1e168e"/>
<polygon points="64.32,282.60 69.35,282.60 66.85,286.59 61.45,286.59" fill="#4c43ec"/>
<polygon points="139.75,286.59 137.25,282.60 137.25,285.60 139.75,289.81" fill="#2a22a2"/>
<polygon points="139.75,286.59 145.15,286.59 145.15,289.81 139.75,289.81" fill="#1e168e"/>
<polygon points="137.25,282.60 142.28,282.60 145.15,286.59 139.75,286.59" fill="#4c43ec"/>
<polygon points="75.55,286.59 77.45,282.60 77.45,285.60 75.55,289.81" fill="#2a22a2"/>
<polygon points="70.15,286.59 75.55,286.59 75.55,289.81 70.15,289.81" fill="#1e168e"/>
<polygon points="72.43,282.60 77.45,282.60 75.55,286.59 70.15,286.59" fill="#4c43ec"/>
<polygon points="131.05,286.59 129.15,282.60 129.15,285.60 131.05,289.81" fill="#2a22a2"/>
<polygon points="131.05,286.59 136.45,286.59 136.45,289.81 131.05,289.81" fill="#1e168e"/>
<polygon points="129.15,282.60 134.17,282.60 136.45,286.59 131.05,286.59" fill="#4c43ec"/>
<polygon points="84.25,286.59 85.55,282.60 85.55,285.60 84.25,289.81" fill="#2a22a2"/>
<polygon points="78.85,286.59 84.25,286.59 84.25,289.81 78.85,289.81" fill="#1e168e"/>
<polygon points="80.53,282.60 85.55,282.60 84.25,286.59 78.85,286.59" fill="#4c43ec"/>
<polygon points="122.35,286.59 121.05,282.60 121.05,285.60 122.35,289.81" fill="#2a22a2"/>
<polygon points="122.35,286.59 127.75,286.59 127.75,289.81 122.35,289.81" fill="#1e168e"/>
<polygon points="121.05,282.60 126.07,282.60 127.75,286.59 122.35,286.59" fill="#4c43ec"/>
<polygon points="92.95,286.59 93.66,282.60 93.66,285.60 92.95,289.81" fill="#2a22a2"/>
<polygon points="87.55,286.59 92.95,286.59 92.95,289.81 87.55,289.81" fill="#1e168e"/>
<polygon points="88.63,282.60 93.66,282.60 92.95,286.59 87.55,286.59" fill="#4c43ec"/>
<polygon points="113.65,286.59 112.94,282.60 112.94,285.60 113.65,289.81" fill="#2a22a2"/>
<polygon points="113.65,286.59 119.05,286.59 119.05,289.81 113.65,289.81" fill="#1e168e"/>
<polygon points="112.94,282.60 117.97,282.60 119.05,286.59 113.65,286.59" fill="#4c43ec"/>
<polygon points="101.65,286.59 101.76,282.60 101.76,285.60 101.65,289.81" fill="#2a22a2"/>
<polygon points="96.25,286.59 101.65,286.59 101.65,289.81 96.25,289.81" fill="#1e168e"/>
<polygon points="96.74,282.60 101.76,282.60 101.65,286.59 96.25,286.59" fill="#4c43ec"/>
<polygon points="104.95,286.59 104.84,282.60 104.84,285.60 104.95,289.81" fill="#2a22a2"/>
<polygon points="104.95,286.59 110.35,286.59 110.35,289.81 104.95,289.81" fill="#1e168e"/>
<polygon points="104.84,282.60 109.86,282.60 110.35,286.59 104.95,286.59" fill="#4c43ec"/>
<polygon points="34.03,292.77 39.26,287.97 39.26,291.26 34.03,296.34" fill="#2a22a2"/>
<polygon points="28.06,292.77 34.03,292.77 34.03,296.34 28.06,296.34" fill="#1e168e"/>
<polygon points="33.73,287.97 39.26,287.97 34.03,292.77 28.06,292.77" fill="#4c43ec"/>
<polygon points="172.57,292.77 167.34,287.97 167.34,291.26 172.57,296.34" fill="#2a22a2"/>
<polygon points="172.57,292.77 178.54,292.77 178.54,296.34 172.57,296.34" fill="#1e168e"/>
<polygon points="167.34,287.97 172.87,287.97 178.54,292.77 172.57,292.77" fill="#4c43ec"/>
<polygon points="43.67,292.77 48.16,287.97 48.16,291.26 43.67,296.34" fill="#2a22a2"/>
<polygon points="37.69,292.77 43.67,292.77 43.67,296.34 37.69,296.34" fill="#1e168e"/>
<polygon points="42.64,287.97 48.16,287.97 43.67,292.77 37.69,292.77" fill="#4c43ec"/>
<polygon points="162.93,292.77 158.44,287.97 158.44,291.26 162.93,296.34" fill="#2a22a2"/>
<polygon points="162.93,292.77 168.91,292.77 168.91,296.34 162.93,296.34" fill="#1e168e"/>
<polygon points="158.44,287.97 163.96,287.97 168.91,292.77 162.93,292.77" fill="#4c43ec"/>
<polygon points="53.30,292.77 57.07,287.97 57.07,291.26 53.30,296.34" fill="#2a22a2"/>
<polygon points="47.33,292.77 53.30,292.77 53.30,296.34 47.33,296.34" fill="#1e168e"/>
<polygon points="51.55,287.97 57.07,287.97 53.30,292.77 47.33,292.77" fill="#4c43ec"/>
<polygon points="153.30,292.77 149.53,287.97 149.53,291.26 153.30,296.34" fill="#2a22a2"/>
<polygon points="153.30,292.77 159.27,292.77 159.27,296.34 153.30,296.34" fill="#1e168e"/>
<polygon points="149.53,287.97 155.05,287.97 159.27,292.77 153.30,292.77" fill="#4c43ec"/>
<polygon points="62.93,292.77 65.98,287.97 65.98,291.26 62.93,296.34" fill="#2a22a2"/>
<polygon points="56.96,292.77 62.93,292.77 62.93,296.34 56.96,296.34" fill="#1e168e"/>
<polygon points="60.46,287.97 65.98,287.97 62.93,292.77 56.96,292.77" fill="#4c43ec"/>
<polygon points="143.67,292.77 140.62,287.97 140.62,291.26 143.67,296.34" fill="#2a22a2"/>
<polygon points="143.67,292.77 149.64,292.77 149.64,296.34 143.67,296.34" fill="#1e168e"/>
<polygon points="140.62,287.97 146.14,287.97 149.64,292.77 143.67,292.77" fill="#4c43ec"/>
<polygon points="72.57,292.77 74.89,287.97 74.89,291.26 72.57,296.34" fill="#2a22a2"/>
<polygon points="66.59,292.77 72.57,292.77 72.57,296.34 66.59,296.34" fill="#1e168e"/>
<polygon points="69.36,287.97 74.89,287.97 72.57,292.77 66.59,292.77" fill="#4c43ec"/>
<polygon points="134.03,292.77 131.71,287.97 131.71,291.26 134.03,296.34" fill="#2a22a2"/>
<polygon points="134.03,292.77 140.01,292.77 140.01,296.34 134.03,296.34" fill="#1e168e"/>
<polygon points="131.71,287.97 137.24,287.97 140.01,292.77 134.03,292.77" fill="#4c43ec"/>
<polygon points="82.20,292.77 83.79,287.97 83.79,291.26 82.20,296.34" fill="#2a22a2"/>
<polygon points="76.23,292.77 82.20,292.77 82.20,296.34 76.23,296.34" fill="#1e168e"/>
<polygon points="78.27,287.97 83.79,287.97 82.20,292.77 76.23,292.77" fill="#4c43ec"/>
<polygon points="124.40,292.77 122.81,287.97 122.81,291.26 124.40,296.34" fill="#2a22a2"/>
<polygon points="124.40,292.77 130.37,292.77 130.37,296.34 124.40,296.34" fill="#1e168e"/>
<polygon points="122.81,287.97 128.33,287.97 130.37,292.77 124.40,292.77" fill="#4c43ec"/>
<polygon points="91.84,292.77 92.70,287.97 92.70,291.26 91.84,296.34" fill="#2a22a2"/>
<polygon points="85.86,292.77 91.84,292.77 91.84,296.34 85.86,296.34" fill="#1e168e"/>
<polygon points="87.18,287.97 92.70,287.97 91.84,292.77 85.86,292.77" fill="#4c43ec"/>
<polygon points="114.76,292.77 113.90,287.97 113.90,291.26 114.76,296.34" fill="#2a22a2"/>
<polygon points="114.76,292.77 120.74,292.77 120.74,296.34 114.76,296.34" fill="#1e168e"/>
<polygon points="113.90,287.97 119.42,287.97 120.74,292.77 114.76,292.77" fill="#4c43ec"/>
<polygon points="101.47,292.77 101.61,287.97 101.61,291.26 101.47,296.34" fill="#2a22a2"/>
<polygon points="95.50,292.77 101.47,292.77 101.47,296.34 95.50,296.34" fill="#1e168e"/>
<polygon points="96.09,287.97 101.61,287.97 101.47,292.77 95.50,292.77" fill="#4c43ec"/>
<polygon points="105.13,292.77 104.99,287.97 104.99,291.26 105.13,296.34" fill="#2a22a2"/>
<polygon points="105.13,292.77 111.10,292.77 111.10,296.34 105.13,296.34" fill="#1e168e"/>
<polygon points="104.99,287.97 110.51,287.97 111.10,292.77 105.13,292.77" fill="#4c43ec"/>
<polygon points="25.70,300.34 32.20,294.45 32.20,298.10 25.70,304.33" fill="#2a22a2"/>
<polygon points="19.01,300.34 25.70,300.34 25.70,304.33 19.01,304.33" fill="#1e168e"/>
<polygon points="26.07,294.45 32.20,294.45 25.70,300.34 19.01,300.34" fill="#4c43ec"/>
<polygon points="180.90,300.34 174.40,294.45 174.40,298.10 180.90,304.33" fill="#2a22a2"/>
<polygon points="180.90,300.34 187.59,300.34 187.59,304.33 180.90,304.33" fill="#1e168e"/>
<polygon points="174.40,294.45 180.53,294.45 187.59,300.34 180.90,300.34" fill="#4c43ec"/>
<polygon points="36.49,300.34 42.09,294.45 42.09,298.10 36.49,304.33" fill="#2a22a2"/>
<polygon points="29.80,300.34 36.49,300.34 36.49,304.33 29.80,304.33" fill="#1e168e"/>
<polygon points="35.96,294.45 42.09,294.45 36.49,300.34 29.80,300.34" fill="#4c43ec"/>
<polygon points="170.11,300.34 164.51,294.45 164.51,298.10 170.11,304.33" fill="#2a22a2"/>
<polygon points="170.11,300.34 176.80,300.34 176.80,304.33 170.11,304.33" fill="#1e168e"/>
<polygon points="164.51,294.45 170.64,294.45 176.80,300.34 170.11,300.34" fill="#4c43ec"/>
<polygon points="47.29,300.34 51.98,294.45 51.98,298.10 47.29,304.33" fill="#2a22a2"/>
<polygon points="40.60,300.34 47.29,300.34 47.29,304.33 40.60,304.33" fill="#1e168e"/>
<polygon points="45.85,294.45 51.98,294.45 47.29,300.34 40.60,300.34" fill="#4c43ec"/>
<polygon points="159.31,300.34 154.62,294.45 154.62,298.10 159.31,304.33" fill="#2a22a2"/>
<polygon points="159.31,300.34 166.00,300.34 166.00,304.33 159.31,304.33" fill="#1e168e"/>
<polygon points="154.62,294.45 160.75,294.45 166.00,300.34 159.31,300.34" fill="#4c43ec"/>
<polygon points="58.08,300.34 61.87,294.45 61.87,298.10 58.08,304.33" fill="#2a22a2"/>
<polygon points="51.39,300.34 58.08,300.34 58.08,304.33 51.39,304.33" fill="#1e168e"/>
<polygon points="55.74,294.45 61.87,294.45 58.08,300.34 51.39,300.34" fill="#4c43ec"/>
<polygon points="148.52,300.34 144.73,294.45 144.73,298.10 148.52,304.33" fill="#2a22a2"/>
<polygon points="148.52,300.34 155.21,300.34 155.21,304.33 148.52,304.33" fill="#1e168e"/>
<polygon points="144.73,294.45 150.86,294.45 155.21,300.34 148.52,300.34" fill="#4c43ec"/>
<polygon points="68.87,300.34 71.75,294.45 71.75,298.10 68.87,304.33" fill="#2a22a2"/>
<polygon points="62.18,300.34 68.87,300.34 68.87,304.33 62.18,304.33" fill="#1e168e"/>
<polygon points="65.62,294.45 71.75,294.45 68.87,300.34 62.18,300.34" fill="#4c43ec"/>
<polygon points="137.73,300.34 134.85,294.45 134.85,298.10 137.73,304.33" fill="#2a22a2"/>
<polygon points="137.73,300.34 144.42,300.34 144.42,304.33 137.73,304.33" fill="#1e168e"/>
<polygon points="134.85,294.45 140.98,294.45 144.42,300.34 137.73,300.34" fill="#4c43ec"/>
<polygon points="79.66,300.34 81.64,294.45 81.64,298.10 79.66,304.33" fill="#2a22a2"/>
<polygon points="72.97,300.34 79.66,300.34 79.66,304.33 72.97,304.33" fill="#1e168e"/>
<polygon points="75.51,294.45 81.64,294.45 79.66,300.34 72.97,300.34" fill="#4c43ec"/>
<polygon points="126.94,300.34 124.96,294.45 124.96,298.10 126.94,304.33" fill="#2a22a2"/>
<polygon points="126.94,300.34 133.63,300.34 133.63,304.33 126.94,304.33" fill="#1e168e"/>
<polygon points="124.96,294.45 131.09,294.45 133.63,300.34 126.94,300.34" fill="#4c43ec"/>
<polygon points="90.46,300.34 91.53,294.45 91.53,298.10 90.46,304.33" fill="#2a22a2"/>
<polygon points="83.77,300.34 90.46,300.34 90.46,304.33 83.77,304.33" fill="#1e168e"/>
<polygon points="85.40,294.45 91.53,294.45 90.46,300.34 83.77,300.34" fill="#4c43ec"/>
<polygon points="116.14,300.34 115.07,294.45 115.07,298.10 116.14,304.33" fill="#2a22a2"/>
<polygon points="116.14,300.34 122.83,300.34 122.83,304.33 116.14,304.33" fill="#1e168e"/>
<polygon points="115.07,294.45 121.20,294.45 122.83,300.34 116.14,300.34" fill="#4c43ec"/>
<polygon points="101.25,300.34 101.42,294.45 101.42,298.10 101.25,304.33" fill="#2a22a2"/>
<polygon points="94.56,300.34 101.25,300.34 101.25,304.33 94.56,304.33" fill="#1e168e"/>
<polygon points="95.29,294.45 101.42,294.45 101.25,300.34 94.56,300.34" fill="#4c43ec"/>
<polygon points="105.35,300.34 105.18,294.45 105.18,298.10 105.35,304.33" fill="#2a22a2"/>
<polygon points="105.35,300.34 112.04,300.34 112.04,304.33 105.35,304.33" fill="#1e168e"/>
<polygon points="105.18,294.45 111.31,294.45 112.04,300.34 105.35,300.34" fill="#4c43ec"/>
<polygon points="14.06,310.74 23.40,302.41 23.40,306.52 14.06,315.33" fill="#2a22a2"/>
<polygon points="6.36,310.74 14.06,310.74 14.06,315.33 6.36,315.33" fill="#4236dc"/>
<polygon points="16.51,302.41 23.40,302.41 14.06,310.74 6.36,310.74" fill="#4c43ec"/>
<polygon points="192.54,310.74 183.20,302.41 183.20,306.52 192.54,315.33" fill="#2a22a2"/>
<polygon points="192.54,310.74 200.24,310.74 200.24,315.33 192.54,315.33" fill="#4236dc"/>
<polygon points="183.20,302.41 190.09,302.41 200.24,310.74 192.54,310.74" fill="#4c43ec"/>
<polygon points="26.47,310.74 34.51,302.41 34.51,306.52 26.47,315.33" fill="#2a22a2"/>
<polygon points="18.78,310.74 26.47,310.74 26.47,315.33 18.78,315.33" fill="#4236dc"/>
<polygon points="27.62,302.41 34.51,302.41 26.47,310.74 18.78,310.74" fill="#4c43ec"/>
<polygon points="180.13,310.74 172.09,302.41 172.09,306.52 180.13,315.33" fill="#2a22a2"/>
<polygon points="180.13,310.74 187.82,310.74 187.82,315.33 180.13,315.33" fill="#4236dc"/>
<polygon points="172.09,302.41 178.98,302.41 187.82,310.74 180.13,310.74" fill="#4c43ec"/>
<polygon points="38.88,310.74 45.62,302.41 45.62,306.52 38.88,315.33" fill="#2a22a2"/>
<polygon points="31.19,310.74 38.88,310.74 38.88,315.33 31.19,315.33" fill="#4236dc"/>
<polygon points="38.73,302.41 45.62,302.41 38.88,310.74 31.19,310.74" fill="#4c43ec"/>
<polygon points="167.72,310.74 160.98,302.41 160.98,306.52 167.72,315.33" fill="#2a22a2"/>
<polygon points="167.72,310.74 175.41,310.74 175.41,315.33 167.72,315.33" fill="#4236dc"/>
<polygon points="160.98,302.41 167.87,302.41 175.41,310.74 167.72,310.74" fill="#4c43ec"/>
<polygon points="51.29,310.74 56.74,302.41 56.74,306.52 51.29,315.33" fill="#2a22a2"/>
<polygon points="43.60,310.74 51.29,310.74 51.29,315.33 43.60,315.33" fill="#4236dc"/>
<polygon points="49.85,302.41 56.74,302.41 51.29,310.74 43.60,310.74" fill="#4c43ec"/>
<polygon points="155.31,310.74 149.86,302.41 149.86,306.52 155.31,315.33" fill="#2a22a2"/>
<polygon points="155.31,310.74 163.00,310.74 163.00,315.33 155.31,315.33" fill="#4236dc"/>
<polygon points="149.86,302.41 156.75,302.41 163.00,310.74 155.31,310.74" fill="#4c43ec"/>
<polygon points="63.71,310.74 67.85,302.41 67.85,306.52 63.71,315.33" fill="#2a22a2"/>
<polygon points="56.01,310.74 63.71,310.74 63.71,315.33 56.01,315.33" fill="#4236dc"/>
<polygon points="60.96,302.41 67.85,302.41 63.71,310.74 56.01,310.74" fill="#4c43ec"/>
<polygon points="142.89,310.74 138.75,302.41 138.75,306.52 142.89,315.33" fill="#2a22a2"/>
<polygon points="142.89,310.74 150.59,310.74 150.59,315.33 142.89,315.33" fill="#4236dc"/>
<polygon points="138.75,302.41 145.64,302.41 150.59,310.74 142.89,310.74" fill="#4c43ec"/>
<polygon points="76.12,310.74 78.96,302.41 78.96,306.52 76.12,315.33" fill="#2a22a2"/>
<polygon points="68.42,310.74 76.12,310.74 76.12,315.33 68.42,315.33" fill="#4236dc"/>
<polygon points="72.07,302.41 78.96,302.41 76.12,310.74 68.42,310.74" fill="#4c43ec"/>
<polygon points="130.48,310.74 127.64,302.41 127.64,306.52 130.48,315.33" fill="#2a22a2"/>
<polygon points="130.48,310.74 138.18,310.74 138.18,315.33 130.48,315.33" fill="#4236dc"/>
<polygon points="127.64,302.41 134.53,302.41 138.18,310.74 130.48,310.74" fill="#4c43ec"/>
<polygon points="88.53,310.74 90.08,302.41 90.08,306.52 88.53,315.33" fill="#2a22a2"/>
<polygon points="80.83,310.74 88.53,310.74 88.53,315.33 80.83,315.33" fill="#4236dc"/>
<polygon points="83.19,302.41 90.08,302.41 88.53,310.74 80.83,310.74" fill="#4c43ec"/>
<polygon points="118.07,310.74 116.52,302.41 116.52,306.52 118.07,315.33" fill="#2a22a2"/>
<polygon points="118.07,310.74 125.77,310.74 125.77,315.33 118.07,315.33" fill="#4236dc"/>
<polygon points="116.52,302.41 123.41,302.41 125.77,310.74 118.07,310.74" fill="#4c43ec"/>
<polygon points="100.94,310.74 101.19,302.41 101.19,306.52 100.94,315.33" fill="#2a22a2"/>
<polygon points="93.25,310.74 100.94,310.74 100.94,315.33 93.25,315.33" fill="#4236dc"/>
<polygon points="94.30,302.41 101.19,302.41 100.94,310.74 93.25,310.74" fill="#4c43ec"/>
<polygon points="105.66,310.74 105.41,302.41 105.41,306.52 105.66,315.33" fill="#2a22a2"/>
<polygon points="105.66,310.74 113.35,310.74 113.35,315.33 105.66,315.33" fill="#4236dc"/>
<polygon points="105.41,302.41 112.30,302.41 113.35,310.74 105.66,310.74" fill="#4c43ec"/>
<path d="M50.30 268.10 L50.38 268.04 L50.45 267.98 L50.52 267.91 L50.59 267.83 L50.64 267.75 L50.68 267.65 L50.71 267.55 L50.72 267.43 L50.72 267.31 L50.70 267.17 L50.66 267.03 L50.62 266.88 L50.56 266.73 L50.48 266.58 L50.40 266.44 L50.31 266.30 L50.22 266.17 L50.11 266.05 L50.01 265.95 L49.90 265.87 L49.80 265.80 L49.69 265.76 L49.59 265.73 L49.49 265.72 L49.39 265.72 L49.29 265.74 L49.19 265.77 L49.10 265.80 L49.00 265.84 L48.91 265.87 L48.81 265.91 L48.71 265.93 L48.61 265.95 L48.51 265.95 L48.40 265.93 L48.30 265.90 L48.18 265.85 L48.07 265.78 L47.96 265.70 L47.85 265.60 L47.74 265.48 L47.64 265.35 L47.55 265.22 L47.47 265.07 L47.39 264.92 L47.33 264.78 L47.29 264.63 L47.26 264.49 L47.24 264.36 L47.24 264.24 L47.26 264.12 L47.30 264.02 L47.35 263.92 L47.42 263.84 L47.49 263.76 L47.58 263.68 L47.67 263.61 L47.77 263.54 L47.87 263.47 L47.96 263.39 L48.06 263.31 L48.14 263.21 L48.22 263.11 L48.29 262.99 L48.34 262.87 L48.38 262.73 L48.41 262.58 L48.42 262.43 L48.41 262.26 L48.39 262.10 L48.35 261.93 L48.30 261.77 L48.23 261.62 L48.15 261.47 L48.07 261.34 L47.97 261.23 L47.86 261.14 L47.75 261.06 L47.62 261.01 L47.49 260.99 L47.35 260.98 L47.21 261.00 L47.06 261.04 L46.90 261.09 L46.73 261.16 L46.56 261.25 L46.37 261.33 L46.18 261.43 L45.98 261.52 L45.77 261.60 L45.55 261.68 L45.33 261.74 L45.10 261.79 L44.87 261.82 L44.64 261.83 L44.41 261.83 L44.19 261.80 L43.97 261.75 L43.78 261.68 L43.60 261.60 L43.44 261.49 L43.31 261.38 L43.21 261.25 L43.14 261.10 L43.11 260.95 L43.12 260.80 L43.18 260.63 L43.27 260.46 L43.41 260.29 L43.59 260.11 L43.81 259.92 L44.07 259.73 L44.36 259.53 L44.68 259.32 L45.04 259.11 L45.41 258.88 L45.79 258.65 L46.19 258.40 L46.59 258.14 L46.99 257.87 L47.37 257.58 L47.74 257.29 L48.08 257.00 L48.40 256.70 L48.68 256.40 L48.91 256.11 L49.11 255.83 L49.25 255.57 L49.35 255.33 L49.38 255.12 L49.37 254.94 L49.29 254.79 L49.15 254.69 L48.95 254.64 L48.69 254.64 L48.38 254.68 L48.01 254.78 L47.58 254.93 L47.10 255.12 L46.57 255.36 L46.00 255.64 L45.38 255.96 L44.73 256.30 L44.06 256.67 L43.35 257.05 L42.64 257.43 L41.91 257.82 L41.18 258.19 L40.46 258.55 L39.75 258.88 L39.07 259.18 L38.43 259.44 L37.82 259.65 L37.27 259.82 L36.78 259.94 L36.36 260.01 L36.02 260.02 L35.76 259.98 L35.59 259.88 L35.52 259.73 L35.54 259.54 L35.66 259.29 L35.88 259.00 L36.20 258.67 L36.62 258.31 L37.13 257.91 L37.72 257.49 L38.39 257.03 L39.13 256.56 L39.93 256.07 L40.77 255.56 L41.65 255.05 L42.55 254.53 L43.45 254.00 L44.35 253.47 L45.22 252.95 L46.06 252.44 L46.86 251.93 L47.60 251.45 L48.26 250.98 L48.85 250.54 L49.35 250.14 L49.76 249.76 L50.06 249.43 L50.26 249.14 L50.36 248.90 L50.36 248.72 L50.25 248.59 L50.03 248.52 L49.73 248.51 L49.33 248.56 L48.84 248.67 L48.28 248.84 L47.65 249.07 L46.96 249.35 L46.22 249.68 L45.44 250.05 L44.63 250.46 L43.80 250.89 L42.95 251.34 L42.11 251.80 L41.27 252.25 L40.45 252.70 L39.65 253.13 L38.89 253.53 L38.17 253.89 L37.50 254.21 L36.88 254.49 L36.33 254.71 L35.83 254.88 L35.41 254.99 L35.06 255.04 L34.78 255.04 L34.58 254.97 L34.46 254.86 L34.41 254.69 L34.44 254.48 L34.55 254.24 L34.72 253.96 L34.96 253.65 L35.27 253.32 L35.63 252.97 L36.04 252.62 L36.49 252.26 L36.98 251.90 L37.49 251.54 L38.03 251.19 L38.57 250.84 L39.11 250.51 L39.65 250.19 L40.17 249.88 L40.67 249.58 L41.13 249.30 L41.56 249.02 L41.94 248.77 L42.28 248.52 L42.56 248.28 L42.79 248.06 L42.96 247.85 L43.07 247.65 L43.13 247.47 L43.14 247.30 L43.09 247.15 L42.99 247.02 L42.85 246.91 L42.67 246.82 L42.46 246.75 L42.21 246.71 L41.95 246.69 L41.66 246.70 L41.36 246.73 L41.05 246.78 L40.73 246.86 L40.42 246.95 L40.10 247.06 L39.80 247.19 L39.50 247.32 L39.21 247.46 L38.93 247.60 L38.67 247.73 L38.42 247.85 L38.19 247.96 L37.97 248.05 L37.76 248.12 L37.57 248.17 L37.40 248.19 L37.23 248.19 L37.08 248.15 L36.95 248.09 L36.83 248.01 L36.73 247.90 L36.65 247.77 L36.58 247.62 L36.52 247.46 L36.49 247.29 L36.47 247.11 L36.47 246.93 L36.49 246.75 L36.53 246.58 L36.58 246.41 L36.65 246.25 L36.74 246.10 L36.84 245.97 L36.95 245.85 L37.06 245.73 L37.18 245.63 L37.31 245.54 L37.43 245.45 L37.56 245.36 L37.67 245.28 L37.78 245.20 L37.87 245.11 L37.95 245.02 L38.02 244.92 L38.06 244.81 L38.09 244.69 L38.10 244.57 L38.09 244.43 L38.06 244.30 L38.02 244.15" fill="none" stroke="#6b2a9c" stroke-width="1.6" stroke-linejoin="round" stroke-linecap="round"/><path d="M50.30 268.10 L50.38 268.04 L50.45 267.98 L50.52 267.91 L50.59 267.83 L50.64 267.75 L50.68 267.65 L50.71 267.55 L50.72 267.43 L50.72 267.31 L50.70 267.17 L50.66 267.03 L50.62 266.88 L50.56 266.73 L50.48 266.58 L50.40 266.44 L50.31 266.30 L50.22 266.17 L50.11 266.05 L50.01 265.95 L49.90 265.87 L49.80 265.80 L49.69 265.76 L49.59 265.73 L49.49 265.72 L49.39 265.72 L49.29 265.74 L49.19 265.77 L49.10 265.80 L49.00 265.84 L48.91 265.87 L48.81 265.91 L48.71 265.93 L48.61 265.95 L48.51 265.95 L48.40 265.93 L48.30 265.90 L48.18 265.85 L48.07 265.78 L47.96 265.70 L47.85 265.60 L47.74 265.48 L47.64 265.35 L47.55 265.22 L47.47 265.07 L47.39 264.92 L47.33 264.78 L47.29 264.63 L47.26 264.49 L47.24 264.36 L47.24 264.24 L47.26 264.12 L47.30 264.02 L47.35 263.92 L47.42 263.84 L47.49 263.76 L47.58 263.68 L47.67 263.61 L47.77 263.54 L47.87 263.47 L47.96 263.39 L48.06 263.31 L48.14 263.21 L48.22 263.11 L48.29 262.99 L48.34 262.87 L48.38 262.73 L48.41 262.58 L48.42 262.43 L48.41 262.26 L48.39 262.10 L48.35 261.93 L48.30 261.77 L48.23 261.62 L48.15 261.47 L48.07 261.34 L47.97 261.23 L47.86 261.14 L47.75 261.06 L47.62 261.01 L47.49 260.99 L47.35 260.98 L47.21 261.00 L47.06 261.04 L46.90 261.09 L46.73 261.16 L46.56 261.25 L46.37 261.33 L46.18 261.43 L45.98 261.52 L45.77 261.60 L45.55 261.68 L45.33 261.74 L45.10 261.79 L44.87 261.82 L44.64 261.83 L44.41 261.83 L44.19 261.80 L43.97 261.75 L43.78 261.68 L43.60 261.60 L43.44 261.49 L43.31 261.38 L43.21 261.25 L43.14 261.10 L43.11 260.95 L43.12 260.80 L43.18 260.63 L43.27 260.46 L43.41 260.29 L43.59 260.11 L43.81 259.92 L44.07 259.73 L44.36 259.53 L44.68 259.32 L45.04 259.11 L45.41 258.88 L45.79 258.65 L46.19 258.40 L46.59 258.14 L46.99 257.87 L47.37 257.58 L47.74 257.29 L48.08 257.00 L48.40 256.70 L48.68 256.40 L48.91 256.11 L49.11 255.83 L49.25 255.57 L49.35 255.33 L49.38 255.12 L49.37 254.94 L49.29 254.79 L49.15 254.69 L48.95 254.64 L48.69 254.64 L48.38 254.68 L48.01 254.78 L47.58 254.93 L47.10 255.12 L46.57 255.36 L46.00 255.64 L45.38 255.96 L44.73 256.30 L44.06 256.67 L43.35 257.05 L42.64 257.43 L41.91 257.82 L41.18 258.19 L40.46 258.55 L39.75 258.88 L39.07 259.18 L38.43 259.44 L37.82 259.65 L37.27 259.82 L36.78 259.94 L36.36 260.01 L36.02 260.02 L35.76 259.98 L35.59 259.88 L35.52 259.73 L35.54 259.54 L35.66 259.29 L35.88 259.00 L36.20 258.67 L36.62 258.31 L37.13 257.91 L37.72 257.49 L38.39 257.03 L39.13 256.56 L39.93 256.07 L40.77 255.56 L41.65 255.05 L42.55 254.53 L43.45 254.00 L44.35 253.47 L45.22 252.95 L46.06 252.44 L46.86 251.93 L47.60 251.45 L48.26 250.98 L48.85 250.54 L49.35 250.14 L49.76 249.76 L50.06 249.43 L50.26 249.14 L50.36 248.90 L50.36 248.72 L50.25 248.59 L50.03 248.52 L49.73 248.51 L49.33 248.56 L48.84 248.67 L48.28 248.84 L47.65 249.07 L46.96 249.35 L46.22 249.68 L45.44 250.05 L44.63 250.46 L43.80 250.89 L42.95 251.34 L42.11 251.80 L41.27 252.25 L40.45 252.70 L39.65 253.13 L38.89 253.53 L38.17 253.89 L37.50 254.21 L36.88 254.49 L36.33 254.71 L35.83 254.88 L35.41 254.99 L35.06 255.04 L34.78 255.04 L34.58 254.97 L34.46 254.86 L34.41 254.69 L34.44 254.48 L34.55 254.24 L34.72 253.96 L34.96 253.65 L35.27 253.32 L35.63 252.97 L36.04 252.62 L36.49 252.26 L36.98 251.90 L37.49 251.54 L38.03 251.19 L38.57 250.84 L39.11 250.51 L39.65 250.19 L40.17 249.88 L40.67 249.58 L41.13 249.30 L41.56 249.02 L41.94 248.77 L42.28 248.52 L42.56 248.28 L42.79 248.06 L42.96 247.85 L43.07 247.65 L43.13 247.47 L43.14 247.30 L43.09 247.15 L42.99 247.02 L42.85 246.91 L42.67 246.82 L42.46 246.75 L42.21 246.71 L41.95 246.69 L41.66 246.70 L41.36 246.73 L41.05 246.78 L40.73 246.86 L40.42 246.95 L40.10 247.06 L39.80 247.19 L39.50 247.32 L39.21 247.46 L38.93 247.60 L38.67 247.73 L38.42 247.85 L38.19 247.96 L37.97 248.05 L37.76 248.12 L37.57 248.17 L37.40 248.19 L37.23 248.19 L37.08 248.15 L36.95 248.09 L36.83 248.01 L36.73 247.90 L36.65 247.77 L36.58 247.62 L36.52 247.46 L36.49 247.29 L36.47 247.11 L36.47 246.93 L36.49 246.75 L36.53 246.58 L36.58 246.41 L36.65 246.25 L36.74 246.10 L36.84 245.97 L36.95 245.85 L37.06 245.73 L37.18 245.63 L37.31 245.54 L37.43 245.45 L37.56 245.36 L37.67 245.28 L37.78 245.20 L37.87 245.11 L37.95 245.02 L38.02 244.92 L38.06 244.81 L38.09 244.69 L38.10 244.57 L38.09 244.43 L38.06 244.30 L38.02 244.15" fill="none" stroke="#b78ad8" stroke-width="0.55" stroke-linejoin="round"/><polygon points="32.80,237.10 41.48,243.11 33.46,247.63" fill="#6b2a9c"/>
<text x="26" y="233.9" font-size="7.2" fill="#6b2a9c" text-anchor="start" textLength="9.7" lengthAdjust="spacingAndGlyphs" font-family="'Liberation Sans',sans-serif">6ω</text>
<path d="M76.50 267.50 L76.60 267.47 L76.69 267.44 L76.78 267.41 L76.87 267.36 L76.95 267.31 L77.02 267.24 L77.09 267.15 L77.14 267.06 L77.19 266.94 L77.22 266.82 L77.25 266.68 L77.26 266.53 L77.26 266.37 L77.25 266.22 L77.23 266.06 L77.20 265.90 L77.16 265.76 L77.11 265.62 L77.05 265.49 L76.98 265.38 L76.91 265.28 L76.83 265.21 L76.75 265.14 L76.66 265.10 L76.56 265.06 L76.47 265.05 L76.37 265.04 L76.27 265.03 L76.17 265.03 L76.06 265.03 L75.96 265.03 L75.86 265.01 L75.76 264.99 L75.67 264.96 L75.57 264.91 L75.49 264.84 L75.40 264.76 L75.32 264.66 L75.25 264.54 L75.19 264.41 L75.14 264.27 L75.09 264.12 L75.06 263.97 L75.04 263.81 L75.02 263.65 L75.02 263.50 L75.04 263.35 L75.06 263.22 L75.10 263.10 L75.15 262.99 L75.21 262.89 L75.28 262.81 L75.37 262.75 L75.46 262.69 L75.56 262.65 L75.67 262.61 L75.78 262.58 L75.90 262.55 L76.02 262.53 L76.14 262.49 L76.26 262.45 L76.37 262.40 L76.48 262.33 L76.59 262.25 L76.69 262.16 L76.77 262.05 L76.85 261.93 L76.92 261.80 L76.98 261.65 L77.02 261.49 L77.05 261.33 L77.06 261.17 L77.06 261.01 L77.04 260.86 L77.01 260.71 L76.96 260.57 L76.90 260.45 L76.82 260.35 L76.73 260.26 L76.62 260.19 L76.49 260.14 L76.35 260.10 L76.20 260.08 L76.03 260.08 L75.85 260.08 L75.65 260.09 L75.45 260.10 L75.24 260.11 L75.02 260.12 L74.79 260.12 L74.56 260.11 L74.33 260.09 L74.10 260.05 L73.87 260.00 L73.66 259.93 L73.45 259.84 L73.25 259.74 L73.08 259.62 L72.92 259.49 L72.79 259.35 L72.68 259.20 L72.60 259.05 L72.56 258.90 L72.56 258.75 L72.59 258.61 L72.66 258.47 L72.77 258.35 L72.92 258.23 L73.11 258.12 L73.35 258.02 L73.62 257.94 L73.93 257.86 L74.28 257.79 L74.66 257.72 L75.06 257.65 L75.49 257.58 L75.94 257.51 L76.40 257.43 L76.87 257.34 L77.34 257.24 L77.80 257.13 L78.25 257.00 L78.68 256.86 L79.09 256.70 L79.46 256.54 L79.79 256.37 L80.07 256.19 L80.31 256.00 L80.49 255.82 L80.60 255.65 L80.65 255.48 L80.64 255.33 L80.55 255.19 L80.38 255.07 L80.15 254.98 L79.84 254.91 L79.46 254.86 L79.01 254.84 L78.49 254.84 L77.91 254.87 L77.27 254.91 L76.59 254.98 L75.86 255.05 L75.09 255.14 L74.30 255.23 L73.48 255.32 L72.67 255.40 L71.85 255.47 L71.05 255.53 L70.27 255.58 L69.53 255.60 L68.83 255.60 L68.19 255.58 L67.62 255.54 L67.12 255.47 L66.71 255.38 L66.39 255.27 L66.17 255.14 L66.05 254.99 L66.03 254.83 L66.13 254.67 L66.33 254.49 L66.65 254.32 L67.07 254.14 L67.59 253.96 L68.22 253.79 L68.93 253.62 L69.72 253.46 L70.58 253.30 L71.50 253.15 L72.48 253.00 L73.48 252.85 L74.51 252.70 L75.55 252.55 L76.57 252.41 L77.58 252.25 L78.56 252.09 L79.48 251.93 L80.35 251.76 L81.14 251.58 L81.85 251.40 L82.47 251.21 L82.99 251.03 L83.40 250.84 L83.69 250.65 L83.87 250.48 L83.94 250.31 L83.89 250.16 L83.72 250.02 L83.44 249.90 L83.05 249.81 L82.56 249.73 L81.97 249.69 L81.30 249.67 L80.56 249.67 L79.75 249.70 L78.89 249.76 L77.98 249.83 L77.05 249.92 L76.10 250.02 L75.15 250.12 L74.20 250.23 L73.27 250.34 L72.37 250.43 L71.52 250.52 L70.71 250.59 L69.97 250.64 L69.29 250.66 L68.69 250.67 L68.18 250.64 L67.74 250.59 L67.40 250.51 L67.15 250.40 L66.98 250.28 L66.91 250.13 L66.93 249.97 L67.04 249.80 L67.23 249.61 L67.50 249.42 L67.84 249.24 L68.25 249.05 L68.71 248.87 L69.23 248.70 L69.78 248.54 L70.37 248.40 L70.98 248.26 L71.61 248.14 L72.24 248.02 L72.87 247.92 L73.49 247.82 L74.09 247.73 L74.66 247.65 L75.20 247.56 L75.69 247.47 L76.15 247.37 L76.55 247.27 L76.90 247.16 L77.20 247.05 L77.44 246.92 L77.62 246.79 L77.74 246.64 L77.81 246.50 L77.82 246.35 L77.79 246.20 L77.70 246.05 L77.57 245.90 L77.39 245.77 L77.18 245.64 L76.94 245.53 L76.67 245.44 L76.38 245.36 L76.08 245.29 L75.76 245.25 L75.43 245.22 L75.10 245.21 L74.77 245.21 L74.44 245.23 L74.12 245.25 L73.82 245.27 L73.52 245.29 L73.25 245.32 L72.99 245.33 L72.75 245.33 L72.53 245.32 L72.34 245.30 L72.17 245.25 L72.02 245.19 L71.89 245.11 L71.79 245.01 L71.72 244.89 L71.67 244.76 L71.64 244.61 L71.63 244.46 L71.64 244.29 L71.67 244.13 L71.73 243.97 L71.80 243.81 L71.88 243.65 L71.98 243.51 L72.10 243.38 L72.22 243.27 L72.36 243.17 L72.50 243.08 L72.64 243.01 L72.80 242.95 L72.95 242.91 L73.10 242.87 L73.25 242.83 L73.39 242.80 L73.53 242.77 L73.66 242.73 L73.78 242.69 L73.89 242.63 L73.99 242.57 L74.07 242.49 L74.14 242.39 L74.20 242.29 L74.24 242.16 L74.27 242.03 L74.28 241.89" fill="none" stroke="#2f5fb0" stroke-width="1.6" stroke-linejoin="round" stroke-linecap="round"/><path d="M76.50 267.50 L76.60 267.47 L76.69 267.44 L76.78 267.41 L76.87 267.36 L76.95 267.31 L77.02 267.24 L77.09 267.15 L77.14 267.06 L77.19 266.94 L77.22 266.82 L77.25 266.68 L77.26 266.53 L77.26 266.37 L77.25 266.22 L77.23 266.06 L77.20 265.90 L77.16 265.76 L77.11 265.62 L77.05 265.49 L76.98 265.38 L76.91 265.28 L76.83 265.21 L76.75 265.14 L76.66 265.10 L76.56 265.06 L76.47 265.05 L76.37 265.04 L76.27 265.03 L76.17 265.03 L76.06 265.03 L75.96 265.03 L75.86 265.01 L75.76 264.99 L75.67 264.96 L75.57 264.91 L75.49 264.84 L75.40 264.76 L75.32 264.66 L75.25 264.54 L75.19 264.41 L75.14 264.27 L75.09 264.12 L75.06 263.97 L75.04 263.81 L75.02 263.65 L75.02 263.50 L75.04 263.35 L75.06 263.22 L75.10 263.10 L75.15 262.99 L75.21 262.89 L75.28 262.81 L75.37 262.75 L75.46 262.69 L75.56 262.65 L75.67 262.61 L75.78 262.58 L75.90 262.55 L76.02 262.53 L76.14 262.49 L76.26 262.45 L76.37 262.40 L76.48 262.33 L76.59 262.25 L76.69 262.16 L76.77 262.05 L76.85 261.93 L76.92 261.80 L76.98 261.65 L77.02 261.49 L77.05 261.33 L77.06 261.17 L77.06 261.01 L77.04 260.86 L77.01 260.71 L76.96 260.57 L76.90 260.45 L76.82 260.35 L76.73 260.26 L76.62 260.19 L76.49 260.14 L76.35 260.10 L76.20 260.08 L76.03 260.08 L75.85 260.08 L75.65 260.09 L75.45 260.10 L75.24 260.11 L75.02 260.12 L74.79 260.12 L74.56 260.11 L74.33 260.09 L74.10 260.05 L73.87 260.00 L73.66 259.93 L73.45 259.84 L73.25 259.74 L73.08 259.62 L72.92 259.49 L72.79 259.35 L72.68 259.20 L72.60 259.05 L72.56 258.90 L72.56 258.75 L72.59 258.61 L72.66 258.47 L72.77 258.35 L72.92 258.23 L73.11 258.12 L73.35 258.02 L73.62 257.94 L73.93 257.86 L74.28 257.79 L74.66 257.72 L75.06 257.65 L75.49 257.58 L75.94 257.51 L76.40 257.43 L76.87 257.34 L77.34 257.24 L77.80 257.13 L78.25 257.00 L78.68 256.86 L79.09 256.70 L79.46 256.54 L79.79 256.37 L80.07 256.19 L80.31 256.00 L80.49 255.82 L80.60 255.65 L80.65 255.48 L80.64 255.33 L80.55 255.19 L80.38 255.07 L80.15 254.98 L79.84 254.91 L79.46 254.86 L79.01 254.84 L78.49 254.84 L77.91 254.87 L77.27 254.91 L76.59 254.98 L75.86 255.05 L75.09 255.14 L74.30 255.23 L73.48 255.32 L72.67 255.40 L71.85 255.47 L71.05 255.53 L70.27 255.58 L69.53 255.60 L68.83 255.60 L68.19 255.58 L67.62 255.54 L67.12 255.47 L66.71 255.38 L66.39 255.27 L66.17 255.14 L66.05 254.99 L66.03 254.83 L66.13 254.67 L66.33 254.49 L66.65 254.32 L67.07 254.14 L67.59 253.96 L68.22 253.79 L68.93 253.62 L69.72 253.46 L70.58 253.30 L71.50 253.15 L72.48 253.00 L73.48 252.85 L74.51 252.70 L75.55 252.55 L76.57 252.41 L77.58 252.25 L78.56 252.09 L79.48 251.93 L80.35 251.76 L81.14 251.58 L81.85 251.40 L82.47 251.21 L82.99 251.03 L83.40 250.84 L83.69 250.65 L83.87 250.48 L83.94 250.31 L83.89 250.16 L83.72 250.02 L83.44 249.90 L83.05 249.81 L82.56 249.73 L81.97 249.69 L81.30 249.67 L80.56 249.67 L79.75 249.70 L78.89 249.76 L77.98 249.83 L77.05 249.92 L76.10 250.02 L75.15 250.12 L74.20 250.23 L73.27 250.34 L72.37 250.43 L71.52 250.52 L70.71 250.59 L69.97 250.64 L69.29 250.66 L68.69 250.67 L68.18 250.64 L67.74 250.59 L67.40 250.51 L67.15 250.40 L66.98 250.28 L66.91 250.13 L66.93 249.97 L67.04 249.80 L67.23 249.61 L67.50 249.42 L67.84 249.24 L68.25 249.05 L68.71 248.87 L69.23 248.70 L69.78 248.54 L70.37 248.40 L70.98 248.26 L71.61 248.14 L72.24 248.02 L72.87 247.92 L73.49 247.82 L74.09 247.73 L74.66 247.65 L75.20 247.56 L75.69 247.47 L76.15 247.37 L76.55 247.27 L76.90 247.16 L77.20 247.05 L77.44 246.92 L77.62 246.79 L77.74 246.64 L77.81 246.50 L77.82 246.35 L77.79 246.20 L77.70 246.05 L77.57 245.90 L77.39 245.77 L77.18 245.64 L76.94 245.53 L76.67 245.44 L76.38 245.36 L76.08 245.29 L75.76 245.25 L75.43 245.22 L75.10 245.21 L74.77 245.21 L74.44 245.23 L74.12 245.25 L73.82 245.27 L73.52 245.29 L73.25 245.32 L72.99 245.33 L72.75 245.33 L72.53 245.32 L72.34 245.30 L72.17 245.25 L72.02 245.19 L71.89 245.11 L71.79 245.01 L71.72 244.89 L71.67 244.76 L71.64 244.61 L71.63 244.46 L71.64 244.29 L71.67 244.13 L71.73 243.97 L71.80 243.81 L71.88 243.65 L71.98 243.51 L72.10 243.38 L72.22 243.27 L72.36 243.17 L72.50 243.08 L72.64 243.01 L72.80 242.95 L72.95 242.91 L73.10 242.87 L73.25 242.83 L73.39 242.80 L73.53 242.77 L73.66 242.73 L73.78 242.69 L73.89 242.63 L73.99 242.57 L74.07 242.49 L74.14 242.39 L74.20 242.29 L74.24 242.16 L74.27 242.03 L74.28 241.89" fill="none" stroke="#86b0ea" stroke-width="0.55" stroke-linejoin="round"/><polygon points="72.10,233.40 77.88,242.23 68.75,243.41" fill="#2f5fb0"/>
<text x="66.9" y="229.4" font-size="7.2" fill="#2f5fb0" text-anchor="start" textLength="10.1" lengthAdjust="spacingAndGlyphs" font-family="'Liberation Sans',sans-serif">5ω</text>
<path d="M106.90 267.50 L107.00 267.49 L107.10 267.47 L107.19 267.45 L107.28 267.41 L107.37 267.37 L107.45 267.31 L107.52 267.24 L107.59 267.15 L107.65 267.04 L107.70 266.92 L107.74 266.79 L107.78 266.64 L107.80 266.49 L107.81 266.34 L107.81 266.18 L107.80 266.02 L107.78 265.87 L107.74 265.73 L107.70 265.60 L107.65 265.48 L107.59 265.38 L107.52 265.29 L107.45 265.22 L107.36 265.16 L107.27 265.12 L107.18 265.09 L107.08 265.07 L106.99 265.05 L106.88 265.04 L106.78 265.02 L106.68 265.01 L106.59 264.98 L106.49 264.95 L106.40 264.90 L106.31 264.84 L106.23 264.76 L106.16 264.67 L106.10 264.56 L106.04 264.44 L106.00 264.30 L105.96 264.16 L105.94 264.01 L105.92 263.85 L105.92 263.69 L105.93 263.54 L105.95 263.39 L105.98 263.25 L106.02 263.12 L106.08 263.00 L106.14 262.90 L106.21 262.82 L106.29 262.75 L106.39 262.69 L106.48 262.65 L106.59 262.62 L106.70 262.60 L106.82 262.59 L106.94 262.57 L107.06 262.56 L107.18 262.54 L107.30 262.51 L107.43 262.48 L107.54 262.43 L107.66 262.37 L107.77 262.29 L107.87 262.19 L107.96 262.08 L108.05 261.96 L108.12 261.82 L108.18 261.67 L108.23 261.52 L108.27 261.36 L108.29 261.21 L108.29 261.05 L108.28 260.90 L108.25 260.77 L108.20 260.64 L108.13 260.52 L108.05 260.43 L107.95 260.34 L107.83 260.28 L107.70 260.22 L107.55 260.19 L107.38 260.16 L107.20 260.14 L107.01 260.12 L106.80 260.11 L106.59 260.09 L106.37 260.08 L106.15 260.05 L105.92 260.01 L105.69 259.96 L105.47 259.89 L105.26 259.81 L105.05 259.71 L104.85 259.60 L104.67 259.48 L104.51 259.34 L104.37 259.19 L104.26 259.04 L104.17 258.88 L104.12 258.72 L104.09 258.57 L104.11 258.42 L104.16 258.28 L104.24 258.16 L104.37 258.05 L104.53 257.95 L104.74 257.87 L104.99 257.81 L105.27 257.76 L105.59 257.72 L105.94 257.69 L106.32 257.67 L106.74 257.66 L107.17 257.65 L107.62 257.63 L108.09 257.61 L108.57 257.58 L109.05 257.54 L109.52 257.49 L109.98 257.42 L110.43 257.34 L110.85 257.24 L111.24 257.12 L111.59 256.99 L111.89 256.85 L112.15 256.71 L112.35 256.55 L112.49 256.39 L112.56 256.24 L112.56 256.08 L112.49 255.94 L112.34 255.80 L112.12 255.68 L111.82 255.57 L111.45 255.48 L111.01 255.40 L110.49 255.34 L109.91 255.29 L109.28 255.25 L108.59 255.23 L107.85 255.21 L107.08 255.20 L106.28 255.18 L105.47 255.17 L104.65 255.14 L103.83 255.11 L103.02 255.07 L102.25 255.02 L101.51 254.95 L100.82 254.86 L100.19 254.76 L99.62 254.64 L99.14 254.51 L98.74 254.37 L98.44 254.22 L98.23 254.06 L98.13 253.91 L98.14 253.75 L98.26 253.60 L98.48 253.45 L98.82 253.32 L99.26 253.20 L99.80 253.09 L100.44 253.00 L101.16 252.93 L101.97 252.87 L102.85 252.82 L103.78 252.79 L104.76 252.76 L105.78 252.75 L106.82 252.73 L107.87 252.72 L108.91 252.70 L109.92 252.68 L110.91 252.65 L111.85 252.60 L112.73 252.55 L113.54 252.47 L114.27 252.38 L114.90 252.28 L115.44 252.16 L115.87 252.03 L116.19 251.89 L116.39 251.73 L116.48 251.58 L116.45 251.42 L116.30 251.27 L116.03 251.11 L115.66 250.97 L115.18 250.84 L114.61 250.72 L113.95 250.62 L113.21 250.53 L112.40 250.45 L111.54 250.40 L110.63 250.35 L109.70 250.32 L108.74 250.30 L107.78 250.28 L106.83 250.27 L105.89 250.25 L104.99 250.24 L104.13 250.21 L103.33 250.18 L102.58 250.13 L101.91 250.07 L101.31 250.00 L100.80 249.91 L100.38 249.80 L100.05 249.68 L99.81 249.55 L99.67 249.40 L99.62 249.25 L99.66 249.09 L99.79 248.94 L100.00 248.78 L100.29 248.63 L100.65 248.49 L101.08 248.36 L101.56 248.24 L102.09 248.14 L102.66 248.05 L103.27 247.98 L103.89 247.93 L104.53 247.89 L105.17 247.86 L105.81 247.83 L106.43 247.82 L107.04 247.80 L107.62 247.79 L108.16 247.77 L108.66 247.75 L109.13 247.71 L109.54 247.66 L109.90 247.60 L110.21 247.52 L110.46 247.43 L110.66 247.32 L110.80 247.20 L110.89 247.06 L110.92 246.92 L110.90 246.76 L110.83 246.61 L110.72 246.45 L110.57 246.29 L110.38 246.15 L110.15 246.01 L109.90 245.88 L109.62 245.76 L109.32 245.66 L109.01 245.58 L108.69 245.51 L108.36 245.46 L108.03 245.42 L107.71 245.39 L107.39 245.37 L107.08 245.35 L106.79 245.34 L106.51 245.33 L106.25 245.31 L106.02 245.28 L105.80 245.24 L105.61 245.19 L105.45 245.13 L105.31 245.05 L105.20 244.95 L105.11 244.84 L105.05 244.72 L105.02 244.58 L105.00 244.43 L105.02 244.28 L105.05 244.12 L105.10 243.96 L105.18 243.81 L105.27 243.66 L105.37 243.52 L105.49 243.40 L105.62 243.29 L105.76 243.19 L105.90 243.11 L106.06 243.04 L106.21 242.99 L106.37 242.95 L106.52 242.92 L106.68 242.91 L106.83 242.89 L106.98 242.88 L107.12 242.86 L107.25 242.84 L107.38 242.81 L107.49 242.78 L107.60 242.72 L107.69 242.66 L107.78 242.57 L107.85 242.48 L107.90 242.36 L107.95 242.23 L107.98 242.10" fill="none" stroke="#3d7a28" stroke-width="1.6" stroke-linejoin="round" stroke-linecap="round"/><path d="M106.90 267.50 L107.00 267.49 L107.10 267.47 L107.19 267.45 L107.28 267.41 L107.37 267.37 L107.45 267.31 L107.52 267.24 L107.59 267.15 L107.65 267.04 L107.70 266.92 L107.74 266.79 L107.78 266.64 L107.80 266.49 L107.81 266.34 L107.81 266.18 L107.80 266.02 L107.78 265.87 L107.74 265.73 L107.70 265.60 L107.65 265.48 L107.59 265.38 L107.52 265.29 L107.45 265.22 L107.36 265.16 L107.27 265.12 L107.18 265.09 L107.08 265.07 L106.99 265.05 L106.88 265.04 L106.78 265.02 L106.68 265.01 L106.59 264.98 L106.49 264.95 L106.40 264.90 L106.31 264.84 L106.23 264.76 L106.16 264.67 L106.10 264.56 L106.04 264.44 L106.00 264.30 L105.96 264.16 L105.94 264.01 L105.92 263.85 L105.92 263.69 L105.93 263.54 L105.95 263.39 L105.98 263.25 L106.02 263.12 L106.08 263.00 L106.14 262.90 L106.21 262.82 L106.29 262.75 L106.39 262.69 L106.48 262.65 L106.59 262.62 L106.70 262.60 L106.82 262.59 L106.94 262.57 L107.06 262.56 L107.18 262.54 L107.30 262.51 L107.43 262.48 L107.54 262.43 L107.66 262.37 L107.77 262.29 L107.87 262.19 L107.96 262.08 L108.05 261.96 L108.12 261.82 L108.18 261.67 L108.23 261.52 L108.27 261.36 L108.29 261.21 L108.29 261.05 L108.28 260.90 L108.25 260.77 L108.20 260.64 L108.13 260.52 L108.05 260.43 L107.95 260.34 L107.83 260.28 L107.70 260.22 L107.55 260.19 L107.38 260.16 L107.20 260.14 L107.01 260.12 L106.80 260.11 L106.59 260.09 L106.37 260.08 L106.15 260.05 L105.92 260.01 L105.69 259.96 L105.47 259.89 L105.26 259.81 L105.05 259.71 L104.85 259.60 L104.67 259.48 L104.51 259.34 L104.37 259.19 L104.26 259.04 L104.17 258.88 L104.12 258.72 L104.09 258.57 L104.11 258.42 L104.16 258.28 L104.24 258.16 L104.37 258.05 L104.53 257.95 L104.74 257.87 L104.99 257.81 L105.27 257.76 L105.59 257.72 L105.94 257.69 L106.32 257.67 L106.74 257.66 L107.17 257.65 L107.62 257.63 L108.09 257.61 L108.57 257.58 L109.05 257.54 L109.52 257.49 L109.98 257.42 L110.43 257.34 L110.85 257.24 L111.24 257.12 L111.59 256.99 L111.89 256.85 L112.15 256.71 L112.35 256.55 L112.49 256.39 L112.56 256.24 L112.56 256.08 L112.49 255.94 L112.34 255.80 L112.12 255.68 L111.82 255.57 L111.45 255.48 L111.01 255.40 L110.49 255.34 L109.91 255.29 L109.28 255.25 L108.59 255.23 L107.85 255.21 L107.08 255.20 L106.28 255.18 L105.47 255.17 L104.65 255.14 L103.83 255.11 L103.02 255.07 L102.25 255.02 L101.51 254.95 L100.82 254.86 L100.19 254.76 L99.62 254.64 L99.14 254.51 L98.74 254.37 L98.44 254.22 L98.23 254.06 L98.13 253.91 L98.14 253.75 L98.26 253.60 L98.48 253.45 L98.82 253.32 L99.26 253.20 L99.80 253.09 L100.44 253.00 L101.16 252.93 L101.97 252.87 L102.85 252.82 L103.78 252.79 L104.76 252.76 L105.78 252.75 L106.82 252.73 L107.87 252.72 L108.91 252.70 L109.92 252.68 L110.91 252.65 L111.85 252.60 L112.73 252.55 L113.54 252.47 L114.27 252.38 L114.90 252.28 L115.44 252.16 L115.87 252.03 L116.19 251.89 L116.39 251.73 L116.48 251.58 L116.45 251.42 L116.30 251.27 L116.03 251.11 L115.66 250.97 L115.18 250.84 L114.61 250.72 L113.95 250.62 L113.21 250.53 L112.40 250.45 L111.54 250.40 L110.63 250.35 L109.70 250.32 L108.74 250.30 L107.78 250.28 L106.83 250.27 L105.89 250.25 L104.99 250.24 L104.13 250.21 L103.33 250.18 L102.58 250.13 L101.91 250.07 L101.31 250.00 L100.80 249.91 L100.38 249.80 L100.05 249.68 L99.81 249.55 L99.67 249.40 L99.62 249.25 L99.66 249.09 L99.79 248.94 L100.00 248.78 L100.29 248.63 L100.65 248.49 L101.08 248.36 L101.56 248.24 L102.09 248.14 L102.66 248.05 L103.27 247.98 L103.89 247.93 L104.53 247.89 L105.17 247.86 L105.81 247.83 L106.43 247.82 L107.04 247.80 L107.62 247.79 L108.16 247.77 L108.66 247.75 L109.13 247.71 L109.54 247.66 L109.90 247.60 L110.21 247.52 L110.46 247.43 L110.66 247.32 L110.80 247.20 L110.89 247.06 L110.92 246.92 L110.90 246.76 L110.83 246.61 L110.72 246.45 L110.57 246.29 L110.38 246.15 L110.15 246.01 L109.90 245.88 L109.62 245.76 L109.32 245.66 L109.01 245.58 L108.69 245.51 L108.36 245.46 L108.03 245.42 L107.71 245.39 L107.39 245.37 L107.08 245.35 L106.79 245.34 L106.51 245.33 L106.25 245.31 L106.02 245.28 L105.80 245.24 L105.61 245.19 L105.45 245.13 L105.31 245.05 L105.20 244.95 L105.11 244.84 L105.05 244.72 L105.02 244.58 L105.00 244.43 L105.02 244.28 L105.05 244.12 L105.10 243.96 L105.18 243.81 L105.27 243.66 L105.37 243.52 L105.49 243.40 L105.62 243.29 L105.76 243.19 L105.90 243.11 L106.06 243.04 L106.21 242.99 L106.37 242.95 L106.52 242.92 L106.68 242.91 L106.83 242.89 L106.98 242.88 L107.12 242.86 L107.25 242.84 L107.38 242.81 L107.49 242.78 L107.60 242.72 L107.69 242.66 L107.78 242.57 L107.85 242.48 L107.90 242.36 L107.95 242.23 L107.98 242.10" fill="none" stroke="#8cc46c" stroke-width="0.55" stroke-linejoin="round"/><polygon points="106.90,233.40 111.50,242.90 102.30,242.90" fill="#3d7a28"/>
<text x="101.7" y="229.4" font-size="7.2" fill="#3d7a28" text-anchor="start" textLength="10.3" lengthAdjust="spacingAndGlyphs" font-family="'Liberation Sans',sans-serif">4ω</text>
<path d="M137.60 267.50 L137.70 267.50 L137.80 267.49 L137.89 267.48 L137.99 267.46 L138.08 267.43 L138.17 267.38 L138.25 267.31 L138.33 267.23 L138.41 267.14 L138.47 267.02 L138.53 266.89 L138.58 266.75 L138.62 266.60 L138.65 266.45 L138.67 266.29 L138.68 266.13 L138.68 265.98 L138.67 265.83 L138.64 265.70 L138.61 265.57 L138.56 265.46 L138.50 265.36 L138.44 265.28 L138.36 265.22 L138.28 265.16 L138.19 265.12 L138.10 265.08 L138.00 265.05 L137.90 265.03 L137.80 265.00 L137.71 264.97 L137.61 264.93 L137.52 264.89 L137.44 264.83 L137.36 264.76 L137.29 264.67 L137.23 264.57 L137.19 264.45 L137.15 264.32 L137.12 264.18 L137.10 264.03 L137.10 263.87 L137.10 263.72 L137.12 263.56 L137.15 263.40 L137.19 263.26 L137.24 263.12 L137.30 262.99 L137.36 262.88 L137.44 262.79 L137.52 262.72 L137.61 262.66 L137.71 262.61 L137.82 262.59 L137.92 262.57 L138.04 262.56 L138.15 262.56 L138.27 262.56 L138.40 262.57 L138.52 262.56 L138.65 262.55 L138.77 262.53 L138.90 262.50 L139.02 262.45 L139.14 262.38 L139.25 262.30 L139.36 262.20 L139.46 262.09 L139.55 261.96 L139.63 261.82 L139.69 261.68 L139.75 261.52 L139.79 261.37 L139.81 261.21 L139.82 261.06 L139.81 260.92 L139.78 260.79 L139.73 260.66 L139.66 260.55 L139.57 260.46 L139.46 260.38 L139.33 260.31 L139.19 260.25 L139.03 260.20 L138.85 260.16 L138.66 260.12 L138.46 260.08 L138.25 260.04 L138.04 259.99 L137.82 259.93 L137.60 259.86 L137.38 259.78 L137.17 259.69 L136.96 259.58 L136.77 259.46 L136.59 259.32 L136.43 259.17 L136.29 259.01 L136.17 258.84 L136.08 258.67 L136.01 258.51 L135.98 258.34 L135.97 258.18 L136.00 258.04 L136.07 257.91 L136.17 257.79 L136.31 257.70 L136.49 257.62 L136.70 257.57 L136.95 257.53 L137.24 257.52 L137.56 257.52 L137.92 257.54 L138.30 257.57 L138.71 257.61 L139.14 257.65 L139.60 257.70 L140.06 257.74 L140.54 257.77 L141.02 257.79 L141.49 257.80 L141.96 257.79 L142.41 257.76 L142.84 257.71 L143.24 257.65 L143.61 257.56 L143.93 257.46 L144.20 257.35 L144.42 257.22 L144.58 257.08 L144.67 256.93 L144.69 256.78 L144.64 256.62 L144.51 256.47 L144.31 256.31 L144.03 256.17 L143.67 256.03 L143.24 255.89 L142.74 255.76 L142.17 255.64 L141.54 255.52 L140.86 255.41 L140.14 255.30 L139.37 255.18 L138.58 255.07 L137.78 254.95 L136.96 254.82 L136.16 254.69 L135.36 254.54 L134.60 254.39 L133.88 254.22 L133.20 254.05 L132.59 253.86 L132.05 253.68 L131.58 253.48 L131.21 253.29 L130.93 253.10 L130.74 252.92 L130.66 252.75 L130.69 252.59 L130.82 252.45 L131.07 252.34 L131.42 252.25 L131.87 252.18 L132.42 252.14 L133.07 252.14 L133.80 252.15 L134.60 252.20 L135.48 252.26 L136.41 252.35 L137.39 252.45 L138.40 252.56 L139.43 252.68 L140.47 252.80 L141.50 252.92 L142.52 253.03 L143.50 253.12 L144.44 253.20 L145.32 253.25 L146.13 253.28 L146.86 253.29 L147.51 253.26 L148.06 253.21 L148.50 253.13 L148.83 253.03 L149.05 252.91 L149.16 252.76 L149.15 252.60 L149.02 252.42 L148.78 252.24 L148.43 252.05 L147.97 251.85 L147.42 251.66 L146.77 251.47 L146.05 251.29 L145.26 251.11 L144.41 250.94 L143.52 250.78 L142.60 250.63 L141.65 250.49 L140.70 250.35 L139.76 250.21 L138.83 250.08 L137.94 249.95 L137.09 249.81 L136.30 249.67 L135.56 249.53 L134.90 249.39 L134.32 249.24 L133.83 249.08 L133.42 248.92 L133.11 248.75 L132.89 248.59 L132.77 248.43 L132.74 248.27 L132.80 248.12 L132.95 247.97 L133.18 247.85 L133.48 247.73 L133.86 247.64 L134.30 247.56 L134.79 247.51 L135.34 247.47 L135.91 247.46 L136.52 247.46 L137.15 247.49 L137.79 247.53 L138.43 247.58 L139.06 247.64 L139.68 247.70 L140.28 247.77 L140.86 247.83 L141.40 247.88 L141.91 247.92 L142.37 247.94 L142.78 247.95 L143.15 247.93 L143.47 247.89 L143.73 247.83 L143.94 247.75 L144.10 247.64 L144.20 247.52 L144.25 247.38 L144.25 247.22 L144.21 247.05 L144.11 246.88 L143.98 246.71 L143.81 246.53 L143.60 246.36 L143.37 246.20 L143.11 246.05 L142.83 245.91 L142.53 245.79 L142.22 245.68 L141.90 245.59 L141.58 245.50 L141.26 245.43 L140.95 245.37 L140.65 245.32 L140.36 245.27 L140.08 245.22 L139.83 245.16 L139.60 245.11 L139.39 245.04 L139.21 244.97 L139.06 244.88 L138.93 244.78 L138.83 244.67 L138.76 244.55 L138.71 244.42 L138.70 244.28 L138.70 244.13 L138.74 243.97 L138.79 243.82 L138.86 243.67 L138.96 243.52 L139.06 243.39 L139.19 243.26 L139.32 243.15 L139.46 243.06 L139.61 242.98 L139.77 242.91 L139.93 242.87 L140.09 242.84 L140.25 242.82 L140.41 242.81 L140.56 242.81 L140.72 242.81 L140.86 242.82 L141.01 242.82 L141.14 242.82 L141.27 242.81 L141.39 242.78 L141.50 242.74 L141.60 242.69 L141.69 242.62 L141.78 242.53 L141.85 242.42 L141.91 242.30 L141.96 242.16" fill="none" stroke="#e07e1c" stroke-width="1.6" stroke-linejoin="round" stroke-linecap="round"/><path d="M137.60 267.50 L137.70 267.50 L137.80 267.49 L137.89 267.48 L137.99 267.46 L138.08 267.43 L138.17 267.38 L138.25 267.31 L138.33 267.23 L138.41 267.14 L138.47 267.02 L138.53 266.89 L138.58 266.75 L138.62 266.60 L138.65 266.45 L138.67 266.29 L138.68 266.13 L138.68 265.98 L138.67 265.83 L138.64 265.70 L138.61 265.57 L138.56 265.46 L138.50 265.36 L138.44 265.28 L138.36 265.22 L138.28 265.16 L138.19 265.12 L138.10 265.08 L138.00 265.05 L137.90 265.03 L137.80 265.00 L137.71 264.97 L137.61 264.93 L137.52 264.89 L137.44 264.83 L137.36 264.76 L137.29 264.67 L137.23 264.57 L137.19 264.45 L137.15 264.32 L137.12 264.18 L137.10 264.03 L137.10 263.87 L137.10 263.72 L137.12 263.56 L137.15 263.40 L137.19 263.26 L137.24 263.12 L137.30 262.99 L137.36 262.88 L137.44 262.79 L137.52 262.72 L137.61 262.66 L137.71 262.61 L137.82 262.59 L137.92 262.57 L138.04 262.56 L138.15 262.56 L138.27 262.56 L138.40 262.57 L138.52 262.56 L138.65 262.55 L138.77 262.53 L138.90 262.50 L139.02 262.45 L139.14 262.38 L139.25 262.30 L139.36 262.20 L139.46 262.09 L139.55 261.96 L139.63 261.82 L139.69 261.68 L139.75 261.52 L139.79 261.37 L139.81 261.21 L139.82 261.06 L139.81 260.92 L139.78 260.79 L139.73 260.66 L139.66 260.55 L139.57 260.46 L139.46 260.38 L139.33 260.31 L139.19 260.25 L139.03 260.20 L138.85 260.16 L138.66 260.12 L138.46 260.08 L138.25 260.04 L138.04 259.99 L137.82 259.93 L137.60 259.86 L137.38 259.78 L137.17 259.69 L136.96 259.58 L136.77 259.46 L136.59 259.32 L136.43 259.17 L136.29 259.01 L136.17 258.84 L136.08 258.67 L136.01 258.51 L135.98 258.34 L135.97 258.18 L136.00 258.04 L136.07 257.91 L136.17 257.79 L136.31 257.70 L136.49 257.62 L136.70 257.57 L136.95 257.53 L137.24 257.52 L137.56 257.52 L137.92 257.54 L138.30 257.57 L138.71 257.61 L139.14 257.65 L139.60 257.70 L140.06 257.74 L140.54 257.77 L141.02 257.79 L141.49 257.80 L141.96 257.79 L142.41 257.76 L142.84 257.71 L143.24 257.65 L143.61 257.56 L143.93 257.46 L144.20 257.35 L144.42 257.22 L144.58 257.08 L144.67 256.93 L144.69 256.78 L144.64 256.62 L144.51 256.47 L144.31 256.31 L144.03 256.17 L143.67 256.03 L143.24 255.89 L142.74 255.76 L142.17 255.64 L141.54 255.52 L140.86 255.41 L140.14 255.30 L139.37 255.18 L138.58 255.07 L137.78 254.95 L136.96 254.82 L136.16 254.69 L135.36 254.54 L134.60 254.39 L133.88 254.22 L133.20 254.05 L132.59 253.86 L132.05 253.68 L131.58 253.48 L131.21 253.29 L130.93 253.10 L130.74 252.92 L130.66 252.75 L130.69 252.59 L130.82 252.45 L131.07 252.34 L131.42 252.25 L131.87 252.18 L132.42 252.14 L133.07 252.14 L133.80 252.15 L134.60 252.20 L135.48 252.26 L136.41 252.35 L137.39 252.45 L138.40 252.56 L139.43 252.68 L140.47 252.80 L141.50 252.92 L142.52 253.03 L143.50 253.12 L144.44 253.20 L145.32 253.25 L146.13 253.28 L146.86 253.29 L147.51 253.26 L148.06 253.21 L148.50 253.13 L148.83 253.03 L149.05 252.91 L149.16 252.76 L149.15 252.60 L149.02 252.42 L148.78 252.24 L148.43 252.05 L147.97 251.85 L147.42 251.66 L146.77 251.47 L146.05 251.29 L145.26 251.11 L144.41 250.94 L143.52 250.78 L142.60 250.63 L141.65 250.49 L140.70 250.35 L139.76 250.21 L138.83 250.08 L137.94 249.95 L137.09 249.81 L136.30 249.67 L135.56 249.53 L134.90 249.39 L134.32 249.24 L133.83 249.08 L133.42 248.92 L133.11 248.75 L132.89 248.59 L132.77 248.43 L132.74 248.27 L132.80 248.12 L132.95 247.97 L133.18 247.85 L133.48 247.73 L133.86 247.64 L134.30 247.56 L134.79 247.51 L135.34 247.47 L135.91 247.46 L136.52 247.46 L137.15 247.49 L137.79 247.53 L138.43 247.58 L139.06 247.64 L139.68 247.70 L140.28 247.77 L140.86 247.83 L141.40 247.88 L141.91 247.92 L142.37 247.94 L142.78 247.95 L143.15 247.93 L143.47 247.89 L143.73 247.83 L143.94 247.75 L144.10 247.64 L144.20 247.52 L144.25 247.38 L144.25 247.22 L144.21 247.05 L144.11 246.88 L143.98 246.71 L143.81 246.53 L143.60 246.36 L143.37 246.20 L143.11 246.05 L142.83 245.91 L142.53 245.79 L142.22 245.68 L141.90 245.59 L141.58 245.50 L141.26 245.43 L140.95 245.37 L140.65 245.32 L140.36 245.27 L140.08 245.22 L139.83 245.16 L139.60 245.11 L139.39 245.04 L139.21 244.97 L139.06 244.88 L138.93 244.78 L138.83 244.67 L138.76 244.55 L138.71 244.42 L138.70 244.28 L138.70 244.13 L138.74 243.97 L138.79 243.82 L138.86 243.67 L138.96 243.52 L139.06 243.39 L139.19 243.26 L139.32 243.15 L139.46 243.06 L139.61 242.98 L139.77 242.91 L139.93 242.87 L140.09 242.84 L140.25 242.82 L140.41 242.81 L140.56 242.81 L140.72 242.81 L140.86 242.82 L141.01 242.82 L141.14 242.82 L141.27 242.81 L141.39 242.78 L141.50 242.74 L141.60 242.69 L141.69 242.62 L141.78 242.53 L141.85 242.42 L141.91 242.30 L141.96 242.16" fill="none" stroke="#f7b766" stroke-width="0.55" stroke-linejoin="round"/><polygon points="142.00,233.40 145.35,243.41 136.22,242.23" fill="#e07e1c"/>
<text x="138.4" y="229.7" font-size="7.2" fill="#e07e1c" text-anchor="start" textLength="9.6" lengthAdjust="spacingAndGlyphs" font-family="'Liberation Sans',sans-serif">3ω</text>
<path d="M163.20 267.50 L163.29 267.54 L163.38 267.57 L163.48 267.60 L163.58 267.61 L163.67 267.62 L163.78 267.60 L163.88 267.58 L163.99 267.53 L164.09 267.46 L164.20 267.38 L164.31 267.28 L164.41 267.17 L164.51 267.04 L164.60 266.90 L164.68 266.76 L164.75 266.62 L164.82 266.47 L164.86 266.32 L164.90 266.18 L164.91 266.05 L164.92 265.93 L164.90 265.81 L164.88 265.71 L164.83 265.62 L164.78 265.53 L164.72 265.46 L164.64 265.39 L164.57 265.33 L164.49 265.26 L164.41 265.20 L164.33 265.13 L164.26 265.06 L164.19 264.98 L164.14 264.89 L164.10 264.80 L164.07 264.69 L164.06 264.57 L164.06 264.44 L164.08 264.30 L164.11 264.15 L164.15 264.00 L164.21 263.85 L164.28 263.71 L164.36 263.56 L164.45 263.43 L164.55 263.30 L164.65 263.19 L164.75 263.09 L164.86 263.02 L164.97 262.96 L165.08 262.92 L165.19 262.90 L165.29 262.89 L165.40 262.91 L165.51 262.93 L165.61 262.97 L165.72 263.01 L165.83 263.06 L165.95 263.11 L166.06 263.16 L166.18 263.19 L166.31 263.22 L166.43 263.24 L166.57 263.24 L166.70 263.22 L166.84 263.19 L166.98 263.13 L167.12 263.06 L167.25 262.98 L167.38 262.88 L167.51 262.76 L167.62 262.64 L167.72 262.51 L167.80 262.37 L167.87 262.23 L167.92 262.09 L167.94 261.95 L167.95 261.81 L167.93 261.68 L167.89 261.56 L167.82 261.44 L167.73 261.32 L167.62 261.21 L167.49 261.10 L167.35 260.99 L167.19 260.88 L167.02 260.77 L166.84 260.65 L166.66 260.52 L166.48 260.38 L166.31 260.23 L166.14 260.07 L165.98 259.90 L165.84 259.72 L165.71 259.52 L165.60 259.32 L165.51 259.12 L165.45 258.91 L165.41 258.71 L165.39 258.51 L165.40 258.33 L165.43 258.16 L165.49 258.01 L165.58 257.88 L165.70 257.78 L165.84 257.71 L166.00 257.67 L166.20 257.67 L166.42 257.70 L166.66 257.77 L166.93 257.86 L167.23 257.99 L167.55 258.14 L167.89 258.32 L168.25 258.51 L168.64 258.72 L169.04 258.94 L169.45 259.15 L169.88 259.37 L170.31 259.57 L170.75 259.76 L171.18 259.93 L171.61 260.08 L172.03 260.20 L172.42 260.30 L172.79 260.36 L173.13 260.39 L173.43 260.38 L173.69 260.34 L173.89 260.27 L174.03 260.16 L174.12 260.02 L174.13 259.86 L174.08 259.66 L173.95 259.44 L173.75 259.19 L173.48 258.92 L173.14 258.62 L172.73 258.31 L172.25 257.97 L171.72 257.62 L171.14 257.25 L170.51 256.86 L169.85 256.46 L169.17 256.05 L168.47 255.62 L167.78 255.19 L167.09 254.75 L166.41 254.30 L165.77 253.86 L165.17 253.43 L164.62 253.00 L164.13 252.59 L163.70 252.20 L163.36 251.84 L163.09 251.51 L162.90 251.22 L162.81 250.98 L162.80 250.78 L162.89 250.65 L163.07 250.57 L163.34 250.55 L163.70 250.60 L164.15 250.71 L164.67 250.89 L165.27 251.13 L165.94 251.43 L166.67 251.78 L167.45 252.18 L168.28 252.62 L169.14 253.09 L170.02 253.59 L170.93 254.10 L171.84 254.61 L172.74 255.12 L173.64 255.62 L174.51 256.09 L175.34 256.52 L176.13 256.91 L176.87 257.25 L177.54 257.54 L178.15 257.77 L178.67 257.93 L179.12 258.03 L179.47 258.06 L179.72 258.02 L179.88 257.92 L179.93 257.77 L179.89 257.55 L179.74 257.28 L179.49 256.96 L179.15 256.60 L178.72 256.21 L178.20 255.78 L177.61 255.33 L176.95 254.85 L176.24 254.37 L175.48 253.87 L174.69 253.37 L173.87 252.87 L173.05 252.37 L172.23 251.87 L171.44 251.39 L170.67 250.92 L169.94 250.47 L169.26 250.03 L168.64 249.61 L168.09 249.22 L167.61 248.85 L167.22 248.51 L166.91 248.20 L166.69 247.93 L166.56 247.68 L166.51 247.48 L166.54 247.32 L166.66 247.20 L166.86 247.12 L167.12 247.09 L167.45 247.10 L167.84 247.15 L168.28 247.25 L168.75 247.39 L169.27 247.56 L169.81 247.77 L170.36 248.01 L170.93 248.28 L171.51 248.56 L172.08 248.86 L172.64 249.16 L173.19 249.46 L173.72 249.75 L174.22 250.03 L174.70 250.29 L175.15 250.52 L175.57 250.72 L175.95 250.89 L176.30 251.01 L176.60 251.10 L176.87 251.14 L177.10 251.14 L177.29 251.10 L177.43 251.02 L177.54 250.91 L177.60 250.76 L177.63 250.58 L177.61 250.38 L177.56 250.17 L177.48 249.93 L177.36 249.69 L177.20 249.45 L177.02 249.21 L176.82 248.97 L176.59 248.73 L176.35 248.51 L176.10 248.30 L175.84 248.10 L175.57 247.91 L175.31 247.73 L175.05 247.56 L174.80 247.40 L174.57 247.25 L174.36 247.10 L174.17 246.95 L174.00 246.81 L173.87 246.67 L173.76 246.53 L173.68 246.39 L173.63 246.25 L173.62 246.10 L173.63 245.96 L173.67 245.82 L173.74 245.68 L173.83 245.54 L173.95 245.42 L174.07 245.30 L174.22 245.20 L174.37 245.11 L174.54 245.04 L174.71 244.99 L174.88 244.95 L175.05 244.93 L175.22 244.93 L175.38 244.95 L175.54 244.98 L175.70 245.02 L175.85 245.08 L175.99 245.14 L176.13 245.20 L176.27 245.27 L176.40 245.32 L176.52 245.37 L176.65 245.41 L176.77 245.43 L176.89 245.44 L177.00 245.43 L177.12 245.39 L177.23 245.34 L177.34 245.26 L177.44 245.17 L177.54 245.06" fill="none" stroke="#a81e2a" stroke-width="1.6" stroke-linejoin="round" stroke-linecap="round"/><path d="M163.20 267.50 L163.29 267.54 L163.38 267.57 L163.48 267.60 L163.58 267.61 L163.67 267.62 L163.78 267.60 L163.88 267.58 L163.99 267.53 L164.09 267.46 L164.20 267.38 L164.31 267.28 L164.41 267.17 L164.51 267.04 L164.60 266.90 L164.68 266.76 L164.75 266.62 L164.82 266.47 L164.86 266.32 L164.90 266.18 L164.91 266.05 L164.92 265.93 L164.90 265.81 L164.88 265.71 L164.83 265.62 L164.78 265.53 L164.72 265.46 L164.64 265.39 L164.57 265.33 L164.49 265.26 L164.41 265.20 L164.33 265.13 L164.26 265.06 L164.19 264.98 L164.14 264.89 L164.10 264.80 L164.07 264.69 L164.06 264.57 L164.06 264.44 L164.08 264.30 L164.11 264.15 L164.15 264.00 L164.21 263.85 L164.28 263.71 L164.36 263.56 L164.45 263.43 L164.55 263.30 L164.65 263.19 L164.75 263.09 L164.86 263.02 L164.97 262.96 L165.08 262.92 L165.19 262.90 L165.29 262.89 L165.40 262.91 L165.51 262.93 L165.61 262.97 L165.72 263.01 L165.83 263.06 L165.95 263.11 L166.06 263.16 L166.18 263.19 L166.31 263.22 L166.43 263.24 L166.57 263.24 L166.70 263.22 L166.84 263.19 L166.98 263.13 L167.12 263.06 L167.25 262.98 L167.38 262.88 L167.51 262.76 L167.62 262.64 L167.72 262.51 L167.80 262.37 L167.87 262.23 L167.92 262.09 L167.94 261.95 L167.95 261.81 L167.93 261.68 L167.89 261.56 L167.82 261.44 L167.73 261.32 L167.62 261.21 L167.49 261.10 L167.35 260.99 L167.19 260.88 L167.02 260.77 L166.84 260.65 L166.66 260.52 L166.48 260.38 L166.31 260.23 L166.14 260.07 L165.98 259.90 L165.84 259.72 L165.71 259.52 L165.60 259.32 L165.51 259.12 L165.45 258.91 L165.41 258.71 L165.39 258.51 L165.40 258.33 L165.43 258.16 L165.49 258.01 L165.58 257.88 L165.70 257.78 L165.84 257.71 L166.00 257.67 L166.20 257.67 L166.42 257.70 L166.66 257.77 L166.93 257.86 L167.23 257.99 L167.55 258.14 L167.89 258.32 L168.25 258.51 L168.64 258.72 L169.04 258.94 L169.45 259.15 L169.88 259.37 L170.31 259.57 L170.75 259.76 L171.18 259.93 L171.61 260.08 L172.03 260.20 L172.42 260.30 L172.79 260.36 L173.13 260.39 L173.43 260.38 L173.69 260.34 L173.89 260.27 L174.03 260.16 L174.12 260.02 L174.13 259.86 L174.08 259.66 L173.95 259.44 L173.75 259.19 L173.48 258.92 L173.14 258.62 L172.73 258.31 L172.25 257.97 L171.72 257.62 L171.14 257.25 L170.51 256.86 L169.85 256.46 L169.17 256.05 L168.47 255.62 L167.78 255.19 L167.09 254.75 L166.41 254.30 L165.77 253.86 L165.17 253.43 L164.62 253.00 L164.13 252.59 L163.70 252.20 L163.36 251.84 L163.09 251.51 L162.90 251.22 L162.81 250.98 L162.80 250.78 L162.89 250.65 L163.07 250.57 L163.34 250.55 L163.70 250.60 L164.15 250.71 L164.67 250.89 L165.27 251.13 L165.94 251.43 L166.67 251.78 L167.45 252.18 L168.28 252.62 L169.14 253.09 L170.02 253.59 L170.93 254.10 L171.84 254.61 L172.74 255.12 L173.64 255.62 L174.51 256.09 L175.34 256.52 L176.13 256.91 L176.87 257.25 L177.54 257.54 L178.15 257.77 L178.67 257.93 L179.12 258.03 L179.47 258.06 L179.72 258.02 L179.88 257.92 L179.93 257.77 L179.89 257.55 L179.74 257.28 L179.49 256.96 L179.15 256.60 L178.72 256.21 L178.20 255.78 L177.61 255.33 L176.95 254.85 L176.24 254.37 L175.48 253.87 L174.69 253.37 L173.87 252.87 L173.05 252.37 L172.23 251.87 L171.44 251.39 L170.67 250.92 L169.94 250.47 L169.26 250.03 L168.64 249.61 L168.09 249.22 L167.61 248.85 L167.22 248.51 L166.91 248.20 L166.69 247.93 L166.56 247.68 L166.51 247.48 L166.54 247.32 L166.66 247.20 L166.86 247.12 L167.12 247.09 L167.45 247.10 L167.84 247.15 L168.28 247.25 L168.75 247.39 L169.27 247.56 L169.81 247.77 L170.36 248.01 L170.93 248.28 L171.51 248.56 L172.08 248.86 L172.64 249.16 L173.19 249.46 L173.72 249.75 L174.22 250.03 L174.70 250.29 L175.15 250.52 L175.57 250.72 L175.95 250.89 L176.30 251.01 L176.60 251.10 L176.87 251.14 L177.10 251.14 L177.29 251.10 L177.43 251.02 L177.54 250.91 L177.60 250.76 L177.63 250.58 L177.61 250.38 L177.56 250.17 L177.48 249.93 L177.36 249.69 L177.20 249.45 L177.02 249.21 L176.82 248.97 L176.59 248.73 L176.35 248.51 L176.10 248.30 L175.84 248.10 L175.57 247.91 L175.31 247.73 L175.05 247.56 L174.80 247.40 L174.57 247.25 L174.36 247.10 L174.17 246.95 L174.00 246.81 L173.87 246.67 L173.76 246.53 L173.68 246.39 L173.63 246.25 L173.62 246.10 L173.63 245.96 L173.67 245.82 L173.74 245.68 L173.83 245.54 L173.95 245.42 L174.07 245.30 L174.22 245.20 L174.37 245.11 L174.54 245.04 L174.71 244.99 L174.88 244.95 L175.05 244.93 L175.22 244.93 L175.38 244.95 L175.54 244.98 L175.70 245.02 L175.85 245.08 L175.99 245.14 L176.13 245.20 L176.27 245.27 L176.40 245.32 L176.52 245.37 L176.65 245.41 L176.77 245.43 L176.89 245.44 L177.00 245.43 L177.12 245.39 L177.23 245.34 L177.34 245.26 L177.44 245.17 L177.54 245.06" fill="none" stroke="#e87070" stroke-width="0.55" stroke-linejoin="round"/><polygon points="181.00,237.00 180.18,247.52 172.24,242.89" fill="#a81e2a"/>
<text x="178.7" y="233.4" font-size="7.2" fill="#a81e2a" text-anchor="start" textLength="8.9" lengthAdjust="spacingAndGlyphs" font-family="'Liberation Sans',sans-serif">2ω</text>
<path d="M86.60 365.00 L86.54 364.94 L86.47 364.88 L86.39 364.81 L86.31 364.73 L86.23 364.64 L86.14 364.53 L86.05 364.41 L85.96 364.28 L85.87 364.12 L85.78 363.95 L85.69 363.77 L85.60 363.57 L85.51 363.35 L85.44 363.13 L85.36 362.90 L85.30 362.66 L85.24 362.42 L85.20 362.18 L85.17 361.95 L85.15 361.72 L85.15 361.50 L85.16 361.30 L85.19 361.11 L85.23 360.93 L85.30 360.77 L85.38 360.63 L85.49 360.51 L85.61 360.40 L85.76 360.30 L85.92 360.22 L86.10 360.15 L86.30 360.08 L86.52 360.02 L86.76 359.96 L87.01 359.90 L87.27 359.83 L87.54 359.75 L87.82 359.67 L88.11 359.57 L88.40 359.45 L88.68 359.32 L88.97 359.18 L89.24 359.01 L89.51 358.83 L89.76 358.64 L89.99 358.43 L90.21 358.21 L90.39 357.98 L90.55 357.74 L90.68 357.50 L90.77 357.26 L90.83 357.02 L90.84 356.79 L90.81 356.57 L90.74 356.36 L90.62 356.17 L90.46 355.99 L90.25 355.82 L89.99 355.68 L89.68 355.55 L89.33 355.43 L88.94 355.33 L88.50 355.25 L88.03 355.17 L87.52 355.10 L86.98 355.04 L86.41 354.98 L85.82 354.92 L85.21 354.85 L84.60 354.78 L83.98 354.70 L83.36 354.60 L82.75 354.49 L82.15 354.37 L81.58 354.23 L81.03 354.07 L80.52 353.89 L80.05 353.70 L79.63 353.50 L79.27 353.28 L78.96 353.05 L78.72 352.82 L78.54 352.58 L78.44 352.34 L78.41 352.10 L78.46 351.87 L78.59 351.65 L78.80 351.43 L79.09 351.23 L79.46 351.05 L79.90 350.88 L80.42 350.72 L81.01 350.59 L81.66 350.47 L82.37 350.36 L83.14 350.27 L83.95 350.19 L84.81 350.12 L85.69 350.06 L86.60 350.00 L87.52 349.94 L88.45 349.88 L89.37 349.81 L90.28 349.73 L91.16 349.64 L92.02 349.53 L92.83 349.41 L93.59 349.28 L94.29 349.12 L94.93 348.95 L95.50 348.77 L95.98 348.57 L96.39 348.35 L96.70 348.13 L96.92 347.90 L97.05 347.66 L97.08 347.42 L97.01 347.18 L96.85 346.95 L96.59 346.72 L96.23 346.50 L95.79 346.30 L95.27 346.11 L94.67 345.93 L93.99 345.77 L93.25 345.63 L92.45 345.51 L91.60 345.40 L90.71 345.30 L89.78 345.22 L88.84 345.15 L87.88 345.08 L86.92 345.02 L85.97 344.96 L85.03 344.90 L84.11 344.83 L83.24 344.75 L82.40 344.67 L81.61 344.57 L80.89 344.45 L80.22 344.32 L79.63 344.18 L79.11 344.01 L78.67 343.83 L78.31 343.64 L78.03 343.43 L77.84 343.21 L77.73 342.98 L77.71 342.74 L77.77 342.50 L77.92 342.26 L78.13 342.02 L78.43 341.79 L78.79 341.57 L79.21 341.36 L79.70 341.17 L80.23 340.99 L80.81 340.82 L81.42 340.68 L82.07 340.55 L82.74 340.43 L83.42 340.33 L84.11 340.25 L84.80 340.17 L85.49 340.10 L86.16 340.04 L86.82 339.98 L87.44 339.92 L88.04 339.85 L88.60 339.78 L89.12 339.70 L89.60 339.60 L90.03 339.49 L90.41 339.37 L90.74 339.23 L91.02 339.07 L91.24 338.89 L91.41 338.70 L91.52 338.50 L91.59 338.28 L91.60 338.05 L91.56 337.82 L91.48 337.58 L91.36 337.34 L91.19 337.10 L90.99 336.87 L90.76 336.65 L90.49 336.43 L90.21 336.23 L89.90 336.05 L89.58 335.88 L89.24 335.72 L88.90 335.59 L88.56 335.47 L88.21 335.36 L87.87 335.27 L87.53 335.19 L87.21 335.12 L86.90 335.06 L86.60 335.00 L86.32 334.94 L86.06 334.88 L85.82 334.81 L85.61 334.73 L85.42 334.64 L85.25 334.53 L85.11 334.41 L84.99 334.28 L84.89 334.12 L84.82 333.95 L84.77 333.77 L84.74 333.57 L84.74 333.35 L84.75 333.13 L84.78 332.90 L84.83 332.66 L84.89 332.42 L84.97 332.18 L85.05 331.95 L85.15 331.72 L85.25 331.50 L85.36 331.30 L85.48 331.11 L85.60 330.93 L85.71 330.77 L85.83 330.63 L85.95 330.51 L86.07 330.40 L86.18 330.30 L86.29 330.22 L86.39 330.15 L86.48 330.08 L86.57 330.02 L86.65 329.96 L86.73 329.90 L86.79 329.83 L86.85 329.75 L86.90 329.67 L86.95 329.57 L86.98 329.45" fill="none" stroke="#555" stroke-width="1.7" stroke-linecap="round" stroke-linejoin="round"/><polygon points="86.60,321.80 90.00,330.00 83.20,330.00" fill="#555"/>
<path d="M129.10 365.00 L129.04 364.94 L128.97 364.88 L128.89 364.81 L128.81 364.73 L128.73 364.64 L128.64 364.53 L128.55 364.41 L128.46 364.28 L128.37 364.12 L128.28 363.95 L128.19 363.77 L128.10 363.57 L128.01 363.35 L127.94 363.13 L127.86 362.90 L127.80 362.66 L127.74 362.42 L127.70 362.18 L127.67 361.95 L127.65 361.72 L127.65 361.50 L127.66 361.30 L127.69 361.11 L127.73 360.93 L127.80 360.77 L127.88 360.63 L127.99 360.51 L128.11 360.40 L128.26 360.30 L128.42 360.22 L128.60 360.15 L128.80 360.08 L129.02 360.02 L129.26 359.96 L129.51 359.90 L129.77 359.83 L130.04 359.75 L130.32 359.67 L130.61 359.57 L130.90 359.45 L131.18 359.32 L131.47 359.18 L131.74 359.01 L132.01 358.83 L132.26 358.64 L132.49 358.43 L132.71 358.21 L132.89 357.98 L133.05 357.74 L133.18 357.50 L133.27 357.26 L133.33 357.02 L133.34 356.79 L133.31 356.57 L133.24 356.36 L133.12 356.17 L132.96 355.99 L132.75 355.82 L132.49 355.68 L132.18 355.55 L131.83 355.43 L131.44 355.33 L131.00 355.25 L130.53 355.17 L130.02 355.10 L129.48 355.04 L128.91 354.98 L128.32 354.92 L127.71 354.85 L127.10 354.78 L126.48 354.70 L125.86 354.60 L125.25 354.49 L124.65 354.37 L124.08 354.23 L123.53 354.07 L123.02 353.89 L122.55 353.70 L122.13 353.50 L121.77 353.28 L121.46 353.05 L121.22 352.82 L121.04 352.58 L120.94 352.34 L120.91 352.10 L120.96 351.87 L121.09 351.65 L121.30 351.43 L121.59 351.23 L121.96 351.05 L122.40 350.88 L122.92 350.72 L123.51 350.59 L124.16 350.47 L124.87 350.36 L125.64 350.27 L126.45 350.19 L127.31 350.12 L128.19 350.06 L129.10 350.00 L130.02 349.94 L130.95 349.88 L131.87 349.81 L132.78 349.73 L133.66 349.64 L134.52 349.53 L135.33 349.41 L136.09 349.28 L136.79 349.12 L137.43 348.95 L138.00 348.77 L138.48 348.57 L138.89 348.35 L139.20 348.13 L139.42 347.90 L139.55 347.66 L139.58 347.42 L139.51 347.18 L139.35 346.95 L139.09 346.72 L138.73 346.50 L138.29 346.30 L137.77 346.11 L137.17 345.93 L136.49 345.77 L135.75 345.63 L134.95 345.51 L134.10 345.40 L133.21 345.30 L132.28 345.22 L131.34 345.15 L130.38 345.08 L129.42 345.02 L128.47 344.96 L127.53 344.90 L126.61 344.83 L125.74 344.75 L124.90 344.67 L124.11 344.57 L123.39 344.45 L122.72 344.32 L122.13 344.18 L121.61 344.01 L121.17 343.83 L120.81 343.64 L120.53 343.43 L120.34 343.21 L120.23 342.98 L120.21 342.74 L120.27 342.50 L120.42 342.26 L120.63 342.02 L120.93 341.79 L121.29 341.57 L121.71 341.36 L122.20 341.17 L122.73 340.99 L123.31 340.82 L123.92 340.68 L124.57 340.55 L125.24 340.43 L125.92 340.33 L126.61 340.25 L127.30 340.17 L127.99 340.10 L128.66 340.04 L129.32 339.98 L129.94 339.92 L130.54 339.85 L131.10 339.78 L131.62 339.70 L132.10 339.60 L132.53 339.49 L132.91 339.37 L133.24 339.23 L133.52 339.07 L133.74 338.89 L133.91 338.70 L134.02 338.50 L134.09 338.28 L134.10 338.05 L134.06 337.82 L133.98 337.58 L133.86 337.34 L133.69 337.10 L133.49 336.87 L133.26 336.65 L132.99 336.43 L132.71 336.23 L132.40 336.05 L132.08 335.88 L131.74 335.72 L131.40 335.59 L131.06 335.47 L130.71 335.36 L130.37 335.27 L130.03 335.19 L129.71 335.12 L129.40 335.06 L129.10 335.00 L128.82 334.94 L128.56 334.88 L128.32 334.81 L128.11 334.73 L127.92 334.64 L127.75 334.53 L127.61 334.41 L127.49 334.28 L127.39 334.12 L127.32 333.95 L127.27 333.77 L127.24 333.57 L127.24 333.35 L127.25 333.13 L127.28 332.90 L127.33 332.66 L127.39 332.42 L127.47 332.18 L127.55 331.95 L127.65 331.72 L127.75 331.50 L127.86 331.30 L127.98 331.11 L128.10 330.93 L128.21 330.77 L128.33 330.63 L128.45 330.51 L128.57 330.40 L128.68 330.30 L128.79 330.22 L128.89 330.15 L128.98 330.08 L129.07 330.02 L129.15 329.96 L129.23 329.90 L129.29 329.83 L129.35 329.75 L129.40 329.67 L129.45 329.57 L129.48 329.45" fill="none" stroke="#555" stroke-width="1.7" stroke-linecap="round" stroke-linejoin="round"/><polygon points="129.10,321.80 132.50,330.00 125.70,330.00" fill="#555"/>
<text x="57.4" y="345.6" font-size="10" fill="#4a4a4a" text-anchor="middle" font-family="'Liberation Serif',serif">ω</text>
<defs><clipPath id="ce"><rect x="211.6" y="222.7" width="96.00000000000003" height="68.69999999999999"/></clipPath></defs>
<g clip-path="url(#ce)"><rect x="211.6" y="222.7" width="96.00000000000003" height="68.69999999999999" fill="#393939"/><rect x="211.6" y="240.3" width="96.00000000000003" height="2.4" fill="#303030"/><rect x="213.8" y="224.3" width="5.8" height="15.8" fill="#7c7c7c" stroke="#9c9c9c" stroke-width="0.8"/><circle cx="226.2" cy="231.9" r="5.3" fill="#7a7a7a" stroke="#a8a8a8" stroke-width="1.1"/><rect x="233.3" y="224.3" width="5.8" height="15.8" fill="#7c7c7c" stroke="#9c9c9c" stroke-width="0.8"/><circle cx="245.7" cy="231.9" r="5.3" fill="#7a7a7a" stroke="#a8a8a8" stroke-width="1.1"/><rect x="252.8" y="224.3" width="5.8" height="15.8" fill="#7c7c7c" stroke="#9c9c9c" stroke-width="0.8"/><circle cx="265.2" cy="231.9" r="5.3" fill="#7a7a7a" stroke="#a8a8a8" stroke-width="1.1"/><rect x="272.3" y="224.3" width="5.8" height="15.8" fill="#7c7c7c" stroke="#9c9c9c" stroke-width="0.8"/><circle cx="284.7" cy="231.9" r="5.3" fill="#7a7a7a" stroke="#a8a8a8" stroke-width="1.1"/><rect x="291.8" y="224.3" width="5.8" height="15.8" fill="#7c7c7c" stroke="#9c9c9c" stroke-width="0.8"/><circle cx="304.2" cy="231.9" r="5.3" fill="#7a7a7a" stroke="#a8a8a8" stroke-width="1.1"/><rect x="211.6" y="259.7" width="96.00000000000003" height="2.4" fill="#303030"/><rect x="213.8" y="243.7" width="5.8" height="15.8" fill="#7c7c7c" stroke="#9c9c9c" stroke-width="0.8"/><circle cx="226.2" cy="251.3" r="5.3" fill="#7a7a7a" stroke="#a8a8a8" stroke-width="1.1"/><rect x="233.3" y="243.7" width="5.8" height="15.8" fill="#7c7c7c" stroke="#9c9c9c" stroke-width="0.8"/><circle cx="245.7" cy="251.3" r="5.3" fill="#7a7a7a" stroke="#a8a8a8" stroke-width="1.1"/><rect x="252.8" y="243.7" width="5.8" height="15.8" fill="#7c7c7c" stroke="#9c9c9c" stroke-width="0.8"/><circle cx="265.2" cy="251.3" r="5.3" fill="#7a7a7a" stroke="#a8a8a8" stroke-width="1.1"/><rect x="272.3" y="243.7" width="5.8" height="15.8" fill="#7c7c7c" stroke="#9c9c9c" stroke-width="0.8"/><circle cx="284.7" cy="251.3" r="5.3" fill="#7a7a7a" stroke="#a8a8a8" stroke-width="1.1"/><rect x="291.8" y="243.7" width="5.8" height="15.8" fill="#7c7c7c" stroke="#9c9c9c" stroke-width="0.8"/><circle cx="304.2" cy="251.3" r="5.3" fill="#7a7a7a" stroke="#a8a8a8" stroke-width="1.1"/><rect x="211.6" y="279.1" width="96.00000000000003" height="2.4" fill="#303030"/><rect x="213.8" y="263.1" width="5.8" height="15.8" fill="#7c7c7c" stroke="#9c9c9c" stroke-width="0.8"/><circle cx="226.2" cy="270.7" r="5.3" fill="#7a7a7a" stroke="#a8a8a8" stroke-width="1.1"/><rect x="233.3" y="263.1" width="5.8" height="15.8" fill="#7c7c7c" stroke="#9c9c9c" stroke-width="0.8"/><circle cx="245.7" cy="270.7" r="5.3" fill="#7a7a7a" stroke="#a8a8a8" stroke-width="1.1"/><rect x="252.8" y="263.1" width="5.8" height="15.8" fill="#7c7c7c" stroke="#9c9c9c" stroke-width="0.8"/><circle cx="265.2" cy="270.7" r="5.3" fill="#7a7a7a" stroke="#a8a8a8" stroke-width="1.1"/><rect x="272.3" y="263.1" width="5.8" height="15.8" fill="#7c7c7c" stroke="#9c9c9c" stroke-width="0.8"/><circle cx="284.7" cy="270.7" r="5.3" fill="#7a7a7a" stroke="#a8a8a8" stroke-width="1.1"/><rect x="291.8" y="263.1" width="5.8" height="15.8" fill="#7c7c7c" stroke="#9c9c9c" stroke-width="0.8"/><circle cx="304.2" cy="270.7" r="5.3" fill="#7a7a7a" stroke="#a8a8a8" stroke-width="1.1"/><rect x="211.6" y="298.5" width="96.00000000000003" height="2.4" fill="#303030"/><rect x="213.8" y="282.5" width="5.8" height="15.8" fill="#7c7c7c" stroke="#9c9c9c" stroke-width="0.8"/><circle cx="226.2" cy="290.1" r="5.3" fill="#7a7a7a" stroke="#a8a8a8" stroke-width="1.1"/><rect x="233.3" y="282.5" width="5.8" height="15.8" fill="#7c7c7c" stroke="#9c9c9c" stroke-width="0.8"/><circle cx="245.7" cy="290.1" r="5.3" fill="#7a7a7a" stroke="#a8a8a8" stroke-width="1.1"/><rect x="252.8" y="282.5" width="5.8" height="15.8" fill="#7c7c7c" stroke="#9c9c9c" stroke-width="0.8"/><circle cx="265.2" cy="290.1" r="5.3" fill="#7a7a7a" stroke="#a8a8a8" stroke-width="1.1"/><rect x="272.3" y="282.5" width="5.8" height="15.8" fill="#7c7c7c" stroke="#9c9c9c" stroke-width="0.8"/><circle cx="284.7" cy="290.1" r="5.3" fill="#7a7a7a" stroke="#a8a8a8" stroke-width="1.1"/><rect x="291.8" y="282.5" width="5.8" height="15.8" fill="#7c7c7c" stroke="#9c9c9c" stroke-width="0.8"/><circle cx="304.2" cy="290.1" r="5.3" fill="#7a7a7a" stroke="#a8a8a8" stroke-width="1.1"/><rect x="293" y="287.2" width="14.2" height="1.9" fill="#fff"/><text x="294.2" y="285.6" font-size="5.2" fill="#f0f0f0" text-anchor="start" textLength="12" lengthAdjust="spacingAndGlyphs" font-family="'Liberation Sans',sans-serif">1 μm</text></g>
<defs><clipPath id="cf"><rect x="316.7" y="222.9" width="50.10000000000002" height="69.1"/></clipPath><radialGradient id="crat"><stop offset="0" stop-color="#333"/><stop offset="0.13" stop-color="#555"/><stop offset="0.25" stop-color="#a8a8a8"/><stop offset="0.75" stop-color="#d4d4d4"/><stop offset="0.92" stop-color="#f4f4f4"/><stop offset="1" stop-color="#c8c8c8"/></radialGradient></defs>
<g clip-path="url(#cf)"><rect x="316.7" y="222.9" width="50.10000000000002" height="69.1" fill="#868686"/><circle cx="320.6" cy="206.3" r="8.4" fill="url(#crat)"/><circle cx="320.6" cy="226.8" r="8.4" fill="url(#crat)"/><circle cx="320.6" cy="247.3" r="8.4" fill="url(#crat)"/><circle cx="320.6" cy="267.8" r="8.4" fill="url(#crat)"/><circle cx="320.6" cy="288.3" r="8.4" fill="url(#crat)"/><circle cx="338.7" cy="216.7" r="8.4" fill="url(#crat)"/><circle cx="338.7" cy="237.2" r="8.4" fill="url(#crat)"/><circle cx="338.7" cy="257.7" r="8.4" fill="url(#crat)"/><circle cx="338.7" cy="278.2" r="8.4" fill="url(#crat)"/><circle cx="338.7" cy="298.7" r="8.4" fill="url(#crat)"/><circle cx="356.8" cy="206.3" r="8.4" fill="url(#crat)"/><circle cx="356.8" cy="226.8" r="8.4" fill="url(#crat)"/><circle cx="356.8" cy="247.3" r="8.4" fill="url(#crat)"/><circle cx="356.8" cy="267.8" r="8.4" fill="url(#crat)"/><circle cx="356.8" cy="288.3" r="8.4" fill="url(#crat)"/><polygon points="366.8,226.5 340.6,257.6 366.8,281.5" fill="#5574f0" fill-opacity="0.36"/></g>
<rect x="367.2" y="222.9" width="46" height="69.1" fill="#d8d8d8"/>
<rect x="367.6" y="223.2" width="45.4" height="33.8" fill="#4c4c4c"/>
<path d="M367.6 223.2 H380 C376 226, 372 229, 367.6 230Z M413 223.2 H401 C405 226, 409 229, 413 230Z" fill="#6a6a6a"/>
<path d="M380 223.2 C376 226, 372 229, 367.6 230 M401 223.2 C405 226, 409 229, 413 230" fill="none" stroke="#bdbdbd" stroke-width="0.8"/>
<path d="M387 223.2 C387 227, 382 231, 377 237 C372.5 242, 371.5 247, 374 251 C376 254, 380 255.3, 385 255.3 L396 255.3 C401 255.3, 405 254, 407 251 C409.5 247, 408.5 242, 404 237 C399 231, 394 227, 394 223.2Z" fill="#545454"/>
<path d="M387 223.2 C387 227, 382 231, 377 237 C372.5 242, 371.5 247, 374 251 C376 254, 380 255.3, 385 255.3 M394 223.2 C394 227, 399 231, 404 237 C408.5 242, 409.5 247, 407 251 C405 254, 401 255.3, 396 255.3" fill="none" stroke="#dadada" stroke-width="1"/>
<path d="M367.6 255.6H413" stroke="#9a9a9a" stroke-width="0.8"/>
<rect x="388.4" y="224" width="4.6" height="3" fill="#2a2a2a"/>
<path d="M390.7 227V255" stroke="#ddd" stroke-width="0.7"/>
<text x="392" y="244" font-size="2.6" fill="#ddd" text-anchor="start" font-family="'Liberation Sans',sans-serif">1.6 μm</text>
<rect x="367.6" y="257.6" width="45.4" height="34.2" fill="#3a3a3a"/>
<path d="M368 286 L380 270 L388 262 L401 262 L412.8 278 L412.8 291.6 L368 291.6Z" fill="#555"/>
<path d="M368 286 L380 270 L388 262 L401 262 L412.8 278" fill="none" stroke="#888" stroke-width="0.6"/>
<text x="389" y="266" font-size="2.6" fill="#ddd" text-anchor="start" font-family="'Liberation Sans',sans-serif">300 nm</text>
<text x="372" y="274.8" font-size="2.6" fill="#ddd" text-anchor="start" font-family="'Liberation Sans',sans-serif">Si</text>
<text x="372" y="281.5" font-size="2.6" fill="#ddd" text-anchor="start" font-family="'Liberation Sans',sans-serif">Sapphire</text>
<rect x="404" y="289" width="7" height="0.8" fill="#ddd"/>
<defs><clipPath id="cg"><rect x="422.4" y="223" width="96.20000000000005" height="68.69999999999999"/></clipPath><pattern id="diag" width="5" height="5" patternUnits="userSpaceOnUse" patternTransform="rotate(35)"><rect width="5" height="5" fill="#757575"/><rect width="1.5" height="5" fill="#a2a2a2"/><rect x="2.7" width="1" height="5" fill="#555"/></pattern></defs>
<g clip-path="url(#cg)"><rect x="422.4" y="223" width="96.20000000000005" height="68.69999999999999" fill="#7a7a7a"/><rect x="422.4" y="222.6" width="96.20000000000005" height="5.6" fill="#b6b6b6"/><rect x="430.0" y="228.0" width="7.2" height="20.3" fill="#4c4c4c"/><rect x="432.4" y="228.0" width="2.4" height="20.3" fill="#5e5e5e"/><rect x="425.0" y="228.5" width="5" height="19.3" rx="1" fill="#9a9a9a" stroke="#fafafa" stroke-width="1"/><rect x="437.2" y="228.5" width="6.6" height="19.3" rx="1" fill="#9a9a9a" stroke="#fafafa" stroke-width="1"/><rect x="457.5" y="228.0" width="7.2" height="20.3" fill="#4c4c4c"/><rect x="459.9" y="228.0" width="2.4" height="20.3" fill="#5e5e5e"/><rect x="452.5" y="228.5" width="5" height="19.3" rx="1" fill="#9a9a9a" stroke="#fafafa" stroke-width="1"/><rect x="464.7" y="228.5" width="6.6" height="19.3" rx="1" fill="#9a9a9a" stroke="#fafafa" stroke-width="1"/><rect x="485.0" y="228.0" width="7.2" height="20.3" fill="#4c4c4c"/><rect x="487.4" y="228.0" width="2.4" height="20.3" fill="#5e5e5e"/><rect x="480.0" y="228.5" width="5" height="19.3" rx="1" fill="#9a9a9a" stroke="#fafafa" stroke-width="1"/><rect x="492.2" y="228.5" width="6.6" height="19.3" rx="1" fill="#9a9a9a" stroke="#fafafa" stroke-width="1"/><rect x="512.5" y="228.0" width="7.2" height="20.3" fill="#4c4c4c"/><rect x="514.9" y="228.0" width="2.4" height="20.3" fill="#5e5e5e"/><rect x="507.5" y="228.5" width="5" height="19.3" rx="1" fill="#9a9a9a" stroke="#fafafa" stroke-width="1"/><rect x="519.7" y="228.5" width="6.6" height="19.3" rx="1" fill="#9a9a9a" stroke="#fafafa" stroke-width="1"/><rect x="422.4" y="250.9" width="96.20000000000005" height="5.6" fill="#b6b6b6"/><rect x="430.0" y="256.3" width="7.2" height="20.3" fill="#4c4c4c"/><rect x="432.4" y="256.3" width="2.4" height="20.3" fill="#5e5e5e"/><rect x="425.0" y="256.8" width="5" height="19.3" rx="1" fill="#9a9a9a" stroke="#fafafa" stroke-width="1"/><rect x="437.2" y="256.8" width="6.6" height="19.3" rx="1" fill="#9a9a9a" stroke="#fafafa" stroke-width="1"/><rect x="457.5" y="256.3" width="7.2" height="20.3" fill="#4c4c4c"/><rect x="459.9" y="256.3" width="2.4" height="20.3" fill="#5e5e5e"/><rect x="452.5" y="256.8" width="5" height="19.3" rx="1" fill="#9a9a9a" stroke="#fafafa" stroke-width="1"/><rect x="464.7" y="256.8" width="6.6" height="19.3" rx="1" fill="#9a9a9a" stroke="#fafafa" stroke-width="1"/><rect x="485.0" y="256.3" width="7.2" height="20.3" fill="#4c4c4c"/><rect x="487.4" y="256.3" width="2.4" height="20.3" fill="#5e5e5e"/><rect x="480.0" y="256.8" width="5" height="19.3" rx="1" fill="#9a9a9a" stroke="#fafafa" stroke-width="1"/><rect x="492.2" y="256.8" width="6.6" height="19.3" rx="1" fill="#9a9a9a" stroke="#fafafa" stroke-width="1"/><rect x="512.5" y="256.3" width="7.2" height="20.3" fill="#4c4c4c"/><rect x="514.9" y="256.3" width="2.4" height="20.3" fill="#5e5e5e"/><rect x="507.5" y="256.8" width="5" height="19.3" rx="1" fill="#9a9a9a" stroke="#fafafa" stroke-width="1"/><rect x="519.7" y="256.8" width="6.6" height="19.3" rx="1" fill="#9a9a9a" stroke="#fafafa" stroke-width="1"/><rect x="422.4" y="279.2" width="96.20000000000005" height="5.6" fill="#b6b6b6"/><rect x="430.0" y="284.6" width="7.2" height="20.3" fill="#4c4c4c"/><rect x="432.4" y="284.6" width="2.4" height="20.3" fill="#5e5e5e"/><rect x="425.0" y="285.1" width="5" height="19.3" rx="1" fill="#9a9a9a" stroke="#fafafa" stroke-width="1"/><rect x="437.2" y="285.1" width="6.6" height="19.3" rx="1" fill="#9a9a9a" stroke="#fafafa" stroke-width="1"/><rect x="457.5" y="284.6" width="7.2" height="20.3" fill="#4c4c4c"/><rect x="459.9" y="284.6" width="2.4" height="20.3" fill="#5e5e5e"/><rect x="452.5" y="285.1" width="5" height="19.3" rx="1" fill="#9a9a9a" stroke="#fafafa" stroke-width="1"/><rect x="464.7" y="285.1" width="6.6" height="19.3" rx="1" fill="#9a9a9a" stroke="#fafafa" stroke-width="1"/><rect x="485.0" y="284.6" width="7.2" height="20.3" fill="#4c4c4c"/><rect x="487.4" y="284.6" width="2.4" height="20.3" fill="#5e5e5e"/><rect x="480.0" y="285.1" width="5" height="19.3" rx="1" fill="#9a9a9a" stroke="#fafafa" stroke-width="1"/><rect x="492.2" y="285.1" width="6.6" height="19.3" rx="1" fill="#9a9a9a" stroke="#fafafa" stroke-width="1"/><rect x="512.5" y="284.6" width="7.2" height="20.3" fill="#4c4c4c"/><rect x="514.9" y="284.6" width="2.4" height="20.3" fill="#5e5e5e"/><rect x="507.5" y="285.1" width="5" height="19.3" rx="1" fill="#9a9a9a" stroke="#fafafa" stroke-width="1"/><rect x="519.7" y="285.1" width="6.6" height="19.3" rx="1" fill="#9a9a9a" stroke="#fafafa" stroke-width="1"/></g>
<rect x="473.6" y="223" width="44.4" height="43.6" fill="url(#diag)" stroke="#333" stroke-width="0.8"/>
<defs><clipPath id="ch"><rect x="211.6" y="301" width="96.00000000000003" height="68.89999999999998"/></clipPath></defs>
<g clip-path="url(#ch)"><rect x="211.6" y="301" width="96.00000000000003" height="68.89999999999998" fill="#7a7a7a"/><rect x="219.1" y="312.6" width="19.3" height="6.9" rx="2.2" fill="#a6a6a6" stroke="#cfcfcf" stroke-width="0.9"/><rect x="258.6" y="312.6" width="19.3" height="6.9" rx="2.2" fill="#a6a6a6" stroke="#cfcfcf" stroke-width="0.9"/><rect x="298.0" y="312.6" width="19.3" height="6.9" rx="2.2" fill="#a6a6a6" stroke="#cfcfcf" stroke-width="0.9"/><rect x="219.1" y="353.7" width="19.3" height="6.9" rx="2.2" fill="#a6a6a6" stroke="#cfcfcf" stroke-width="0.9"/><rect x="258.6" y="353.7" width="19.3" height="6.9" rx="2.2" fill="#a6a6a6" stroke="#cfcfcf" stroke-width="0.9"/><rect x="298.0" y="353.7" width="19.3" height="6.9" rx="2.2" fill="#a6a6a6" stroke="#cfcfcf" stroke-width="0.9"/></g>
<path d="M221 322.3H236M281 315.8H295M274.8 324.3V349M272 364.5H285" stroke="#f4f4f4" stroke-width="0.6"/>
<text x="221" y="328.2" font-size="3.2" fill="#f4f4f4" text-anchor="start" textLength="15" lengthAdjust="spacingAndGlyphs" font-family="'Liberation Sans',sans-serif">793 nm</text>
<text x="280" y="311.2" font-size="3.2" fill="#f4f4f4" text-anchor="start" textLength="15" lengthAdjust="spacingAndGlyphs" font-family="'Liberation Sans',sans-serif">216 nm</text>
<text x="0" y="0" font-size="3.2" fill="#f4f4f4" text-anchor="middle" textLength="15" lengthAdjust="spacingAndGlyphs" transform="translate(245.5,315.6) rotate(-90)">737 nm</text>
<text x="0" y="0" font-size="3.2" fill="#f4f4f4" text-anchor="middle" textLength="13" lengthAdjust="spacingAndGlyphs" transform="translate(279,336) rotate(-90)">764 nm</text>
<text x="265" y="366" font-size="3.6" fill="#f4f4f4" text-anchor="start" font-family="'Liberation Sans',sans-serif">Si</text>
<text x="284" y="366" font-size="3.6" fill="#f4f4f4" text-anchor="start" textLength="10" lengthAdjust="spacingAndGlyphs" font-family="'Liberation Sans',sans-serif">[110]</text>
<defs><linearGradient id="itop" x1="0" y1="0" x2="0" y2="1"><stop offset="0" stop-color="#b0b0b0"/><stop offset="1" stop-color="#959595"/></linearGradient><linearGradient id="iwall" x1="0" y1="0" x2="0" y2="1"><stop offset="0" stop-color="#4a4a4a"/><stop offset="1" stop-color="#5e5e5e"/></linearGradient></defs>
<rect x="317.5" y="301" width="96" height="14" fill="url(#itop)"/>
<rect x="317.5" y="315" width="96" height="24" fill="url(#iwall)"/>
<rect x="317.5" y="339" width="96" height="16.5" fill="#6e6e6e"/>
<rect x="317.5" y="355.5" width="96" height="13.1" fill="#b2b2b2"/>
<polygon points="317.5,315 320,315 324,355.5 317.5,355.5" fill="#c2c2c2"/>
<polygon points="413.5,315 411,315 407,355.5 413.5,355.5" fill="#bdbdbd"/>
<path d="M346 355.5 C351 353, 352.5 345, 353.5 337 C354.5 331, 358 329.5, 365 329.5 C372 329.5, 375.5 331, 376.5 337 C377.5 345, 379 353, 384 355.5Z" fill="#4c4c4c"/>
<path d="M354 335.5 C355 331, 358 329.5, 365 329.5 C372 329.5, 375 331, 376 335.5" fill="none" stroke="#9a9a9a" stroke-width="1.1"/>
<defs><clipPath id="cj"><rect x="422.5" y="301" width="96.10000000000002" height="68.69999999999999"/></clipPath></defs>
<g clip-path="url(#cj)"><rect x="422.5" y="301" width="96.10000000000002" height="68.69999999999999" fill="#4a4a4a"/><rect x="422.5" y="322.6" width="96.10000000000002" height="4.5" fill="#3c3c3c"/><rect x="424.3" y="303.1" width="24" height="15.3" rx="0.8" fill="#7a7a7a" stroke="#cacaca" stroke-width="0.9"/><rect x="451.4" y="303.1" width="24" height="15.3" rx="0.8" fill="#7a7a7a" stroke="#cacaca" stroke-width="0.9"/><rect x="478.9" y="303.1" width="24" height="15.3" rx="0.8" fill="#7a7a7a" stroke="#cacaca" stroke-width="0.9"/><rect x="506.0" y="303.1" width="24" height="15.3" rx="0.8" fill="#7a7a7a" stroke="#cacaca" stroke-width="0.9"/><rect x="422.5" y="348.8" width="96.10000000000002" height="4.5" fill="#3c3c3c"/><rect x="424.3" y="329.3" width="24" height="15.3" rx="0.8" fill="#7a7a7a" stroke="#cacaca" stroke-width="0.9"/><rect x="451.4" y="329.3" width="24" height="15.3" rx="0.8" fill="#7a7a7a" stroke="#cacaca" stroke-width="0.9"/><rect x="478.9" y="329.3" width="24" height="15.3" rx="0.8" fill="#7a7a7a" stroke="#cacaca" stroke-width="0.9"/><rect x="506.0" y="329.3" width="24" height="15.3" rx="0.8" fill="#7a7a7a" stroke="#cacaca" stroke-width="0.9"/><rect x="422.5" y="375.0" width="96.10000000000002" height="4.5" fill="#3c3c3c"/><rect x="424.3" y="355.5" width="24" height="15.3" rx="0.8" fill="#7a7a7a" stroke="#cacaca" stroke-width="0.9"/><rect x="451.4" y="355.5" width="24" height="15.3" rx="0.8" fill="#7a7a7a" stroke="#cacaca" stroke-width="0.9"/><rect x="478.9" y="355.5" width="24" height="15.3" rx="0.8" fill="#7a7a7a" stroke="#cacaca" stroke-width="0.9"/><rect x="506.0" y="355.5" width="24" height="15.3" rx="0.8" fill="#7a7a7a" stroke="#cacaca" stroke-width="0.9"/><path d="M422.5 301.4H518.6" stroke="#222" stroke-width="0.8"/></g>
<rect x="464.6" y="326.9" width="53.2" height="42" fill="#3e3e3e" stroke="#b8652f" stroke-width="1.4"/>
<rect x="469" y="330.4" width="45.2" height="30.2" rx="2" fill="#dcdcb0" stroke="#ececdc" stroke-width="0.9"/>
<rect x="469.4" y="330.8" width="44.4" height="24.6" rx="1.8" fill="#6470bc"/>
<text x="472.2" y="337.4" font-size="5.6" fill="#f4f4f4" text-anchor="start" textLength="11.8" lengthAdjust="spacingAndGlyphs" font-family="'Liberation Sans',sans-serif">HSQ</text>
<text x="472.2" y="359.9" font-size="5.2" fill="#333" text-anchor="start" textLength="11" lengthAdjust="spacingAndGlyphs" font-family="'Liberation Sans',sans-serif">GaP</text>
<text x="472.2" y="366.8" font-size="5.2" fill="#f0f0f0" text-anchor="start" font-family="'Liberation Sans',sans-serif">SiO<tspan font-size="3.4" dy="1">2</tspan></text>
<text x="36.7" y="222" font-size="7.6" fill="#111" text-anchor="middle" font-weight="bold" font-family="'Liberation Sans',sans-serif">d</text>
<text x="215" y="221.6" font-size="7.6" fill="#111" text-anchor="middle" font-weight="bold" font-family="'Liberation Sans',sans-serif">e</text>
<text x="320" y="221.4" font-size="7.6" fill="#111" text-anchor="middle" font-weight="bold" font-family="'Liberation Sans',sans-serif">f</text>
<text x="425.4" y="221.2" font-size="7.6" fill="#111" text-anchor="middle" font-weight="bold" font-family="'Liberation Sans',sans-serif">g</text>
<text x="214.7" y="298.8" font-size="7.6" fill="#111" text-anchor="middle" font-weight="bold" font-family="'Liberation Sans',sans-serif">h</text>
<text x="319.6" y="298.8" font-size="7.6" fill="#111" text-anchor="middle" font-weight="bold" font-family="'Liberation Sans',sans-serif">i</text>
<text x="424.7" y="298.8" font-size="7.6" fill="#111" text-anchor="middle" font-weight="bold" font-family="'Liberation Sans',sans-serif">j</text>
</svg>
</body></html>
